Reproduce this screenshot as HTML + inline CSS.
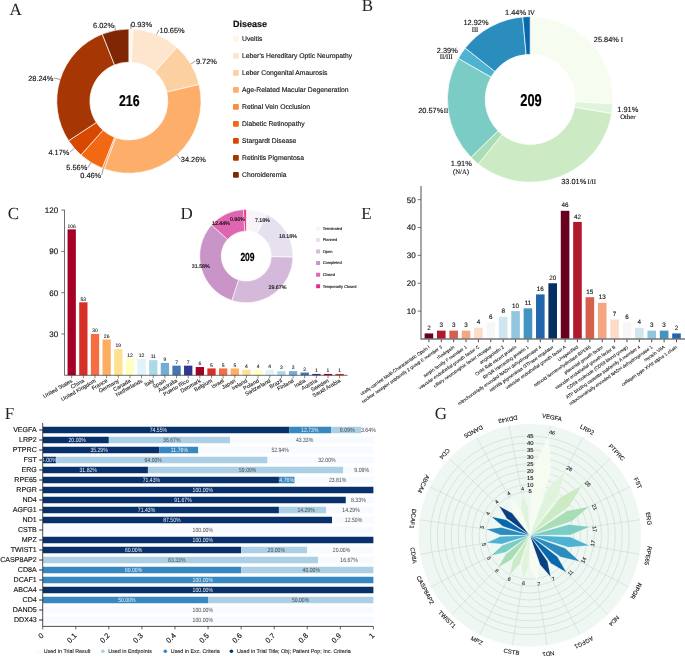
<!DOCTYPE html>
<html lang="en"><head><meta charset="utf-8"><title>Figure</title>
<style>html,body{margin:0;padding:0;background:#fff}body{width:685px;height:656px;overflow:hidden}svg{display:block}text{white-space:pre;text-rendering:geometricPrecision}</style>
</head><body>
<svg width="685" height="656" viewBox="0 0 685 656">
<rect width="685" height="656" fill="#fff"/>
<text x="9.5" y="15" font-size="17" text-anchor="start" font-family='"Liberation Serif", "Times New Roman", serif' fill="#222" stroke="none">A</text>
<text x="361.7" y="11.3" font-size="17" text-anchor="start" font-family='"Liberation Serif", "Times New Roman", serif' fill="#222" stroke="none">B</text>
<text x="7.8" y="218.7" font-size="17" text-anchor="start" font-family='"Liberation Serif", "Times New Roman", serif' fill="#222" stroke="none">C</text>
<text x="180.4" y="218.9" font-size="17" text-anchor="start" font-family='"Liberation Serif", "Times New Roman", serif' fill="#222" stroke="none">D</text>
<text x="361.2" y="219" font-size="17" text-anchor="start" font-family='"Liberation Serif", "Times New Roman", serif' fill="#222" stroke="none">E</text>
<text x="4.8" y="419.1" font-size="17" text-anchor="start" font-family='"Liberation Serif", "Times New Roman", serif' fill="#222" stroke="none">F</text>
<text x="434.8" y="419.1" font-size="17" text-anchor="start" font-family='"Liberation Serif", "Times New Roman", serif' fill="#222" stroke="none">G</text>
<path d="M128.9 28.95A72.15 72.15 0 0 1 133.11 29.07L131.17 62.22A38.95 38.95 0 0 0 128.9 62.15Z" fill="#fff5eb" stroke="#fff" stroke-width="0.7" stroke-linejoin="round"/>
<path d="M133.11 29.07A72.15 72.15 0 0 1 176.88 47.22L154.8 72.01A38.95 38.95 0 0 0 131.17 62.22Z" fill="#fee6ce" stroke="#fff" stroke-width="0.7" stroke-linejoin="round"/>
<path d="M176.88 47.22A72.15 72.15 0 0 1 199.11 84.47L166.8 92.12A38.95 38.95 0 0 0 154.8 72.01Z" fill="#fdd0a2" stroke="#fff" stroke-width="0.7" stroke-linejoin="round"/>
<path d="M199.11 84.47A72.15 72.15 0 0 1 104.23 168.9L115.58 137.7A38.95 38.95 0 0 0 166.8 92.12Z" fill="#fdae6b" stroke="#fff" stroke-width="0.7" stroke-linejoin="round"/>
<path d="M104.23 168.9A72.15 72.15 0 0 1 102.28 168.16L114.53 137.3A38.95 38.95 0 0 0 115.58 137.7Z" fill="#fd8d3c" stroke="#fff" stroke-width="0.7" stroke-linejoin="round"/>
<path d="M102.28 168.16A72.15 72.15 0 0 1 80.94 155L103.01 130.2A38.95 38.95 0 0 0 114.53 137.3Z" fill="#f16913" stroke="#fff" stroke-width="0.7" stroke-linejoin="round"/>
<path d="M80.94 155A72.15 72.15 0 0 1 68.61 140.74L96.35 122.5A38.95 38.95 0 0 0 103.01 130.2Z" fill="#d94801" stroke="#fff" stroke-width="0.7" stroke-linejoin="round"/>
<path d="M68.61 140.74A72.15 72.15 0 0 1 102.26 34.05L114.52 64.9A38.95 38.95 0 0 0 96.35 122.5Z" fill="#a63603" stroke="#fff" stroke-width="0.7" stroke-linejoin="round"/>
<path d="M102.26 34.05A72.15 72.15 0 0 1 128.9 28.95L128.9 62.15A38.95 38.95 0 0 0 114.52 64.9Z" fill="#7f2704" stroke="#fff" stroke-width="0.7" stroke-linejoin="round"/>
<text x="129.3" y="106.1" font-size="15.6" text-anchor="middle" font-family='"Liberation Sans", Arial, Helvetica, sans-serif' font-weight="bold" fill="#000" stroke="#000" stroke-width="0.22" textLength="20.6" lengthAdjust="spacingAndGlyphs">216</text>
<text x="131" y="26.7" font-size="7.4" text-anchor="start" font-family='"Liberation Sans", Arial, Helvetica, sans-serif' fill="#111" stroke="#111" stroke-width="0.14">0.93%</text>
<line x1="131.01" y1="28.98" x2="130.5" y2="24.1" stroke="#333" stroke-width="0.5"/>
<text x="159.6" y="32.5" font-size="7.4" text-anchor="start" font-family='"Liberation Sans", Arial, Helvetica, sans-serif' fill="#111" stroke="#111" stroke-width="0.14">10.65%</text>
<line x1="156.53" y1="34.45" x2="159.1" y2="29.9" stroke="#333" stroke-width="0.5"/>
<text x="195.9" y="63.6" font-size="7.4" text-anchor="start" font-family='"Liberation Sans", Arial, Helvetica, sans-serif' fill="#111" stroke="#111" stroke-width="0.14">9.72%</text>
<line x1="190.86" y1="64.13" x2="195.4" y2="61" stroke="#333" stroke-width="0.5"/>
<text x="180.8" y="162.2" font-size="7.4" text-anchor="start" font-family='"Liberation Sans", Arial, Helvetica, sans-serif' fill="#111" stroke="#111" stroke-width="0.14">34.26%</text>
<line x1="176.86" y1="155" x2="180.3" y2="159.6" stroke="#333" stroke-width="0.5"/>
<text x="101.2" y="177.6" font-size="7.4" text-anchor="end" font-family='"Liberation Sans", Arial, Helvetica, sans-serif' fill="#111" stroke="#111" stroke-width="0.14">0.46%</text>
<line x1="103.25" y1="168.54" x2="101.7" y2="175" stroke="#333" stroke-width="0.5"/>
<text x="87.3" y="170.2" font-size="7.4" text-anchor="end" font-family='"Liberation Sans", Arial, Helvetica, sans-serif' fill="#111" stroke="#111" stroke-width="0.14">5.56%</text>
<line x1="91.03" y1="162.51" x2="87.8" y2="167.6" stroke="#333" stroke-width="0.5"/>
<text x="69.4" y="154.8" font-size="7.4" text-anchor="end" font-family='"Liberation Sans", Arial, Helvetica, sans-serif' fill="#111" stroke="#111" stroke-width="0.14">4.17%</text>
<line x1="74.31" y1="148.27" x2="69.9" y2="152.2" stroke="#333" stroke-width="0.5"/>
<text x="53.3" y="80.6" font-size="7.4" text-anchor="end" font-family='"Liberation Sans", Arial, Helvetica, sans-serif' fill="#111" stroke="#111" stroke-width="0.14">28.24%</text>
<line x1="60.09" y1="79.4" x2="53.8" y2="78" stroke="#333" stroke-width="0.5"/>
<text x="114" y="27.6" font-size="7.4" text-anchor="end" font-family='"Liberation Sans", Arial, Helvetica, sans-serif' fill="#111" stroke="#111" stroke-width="0.14">6.02%</text>
<line x1="115.34" y1="30.24" x2="114.5" y2="25" stroke="#333" stroke-width="0.5"/>
<text x="232.9" y="26.5" font-size="9" text-anchor="start" font-family='"Liberation Sans", Arial, Helvetica, sans-serif' font-weight="bold" fill="#111" stroke="#111" stroke-width="0.19">Disease</text>
<rect x="233" y="35.9" width="5.8" height="5.8" rx="1" fill="#fff5eb"/>
<text x="242" y="41.2" font-size="6.8" text-anchor="start" font-family='"Liberation Sans", Arial, Helvetica, sans-serif' fill="#111" stroke="#111" stroke-width="0.12">Uveitis</text>
<rect x="233" y="52.9" width="5.8" height="5.8" rx="1" fill="#fee6ce"/>
<text x="242" y="58.2" font-size="6.8" text-anchor="start" font-family='"Liberation Sans", Arial, Helvetica, sans-serif' fill="#111" stroke="#111" stroke-width="0.12">Leber's Hereditary Optic Neuropathy</text>
<rect x="233" y="69.9" width="5.8" height="5.8" rx="1" fill="#fdd0a2"/>
<text x="242" y="75.2" font-size="6.8" text-anchor="start" font-family='"Liberation Sans", Arial, Helvetica, sans-serif' fill="#111" stroke="#111" stroke-width="0.12">Leber Congenital Amaurosis</text>
<rect x="233" y="86.9" width="5.8" height="5.8" rx="1" fill="#fdae6b"/>
<text x="242" y="92.2" font-size="6.8" text-anchor="start" font-family='"Liberation Sans", Arial, Helvetica, sans-serif' fill="#111" stroke="#111" stroke-width="0.12">Age-Related Macular Degeneration</text>
<rect x="233" y="103.9" width="5.8" height="5.8" rx="1" fill="#fd8d3c"/>
<text x="242" y="109.2" font-size="6.8" text-anchor="start" font-family='"Liberation Sans", Arial, Helvetica, sans-serif' fill="#111" stroke="#111" stroke-width="0.12">Retinal Vein Occlusion</text>
<rect x="233" y="120.9" width="5.8" height="5.8" rx="1" fill="#f16913"/>
<text x="242" y="126.2" font-size="6.8" text-anchor="start" font-family='"Liberation Sans", Arial, Helvetica, sans-serif' fill="#111" stroke="#111" stroke-width="0.12">Diabetic Retinopathy</text>
<rect x="233" y="137.9" width="5.8" height="5.8" rx="1" fill="#d94801"/>
<text x="242" y="143.2" font-size="6.8" text-anchor="start" font-family='"Liberation Sans", Arial, Helvetica, sans-serif' fill="#111" stroke="#111" stroke-width="0.12">Stargardt Disease</text>
<rect x="233" y="154.9" width="5.8" height="5.8" rx="1" fill="#a63603"/>
<text x="242" y="160.2" font-size="6.8" text-anchor="start" font-family='"Liberation Sans", Arial, Helvetica, sans-serif' fill="#111" stroke="#111" stroke-width="0.12">Retinitis Pigmentosa</text>
<rect x="233" y="171.9" width="5.8" height="5.8" rx="1" fill="#7f2704"/>
<text x="242" y="177.2" font-size="6.8" text-anchor="start" font-family='"Liberation Sans", Arial, Helvetica, sans-serif' fill="#111" stroke="#111" stroke-width="0.12">Choroideremia</text>
<path d="M530.2 16.6A82.8 82.8 0 0 1 612.88 103.78L575.14 101.78A45 45 0 0 0 530.2 54.4Z" fill="#f7fcf0" stroke="#fff" stroke-width="0.7" stroke-linejoin="round"/>
<path d="M612.88 103.78A82.8 82.8 0 0 1 611.76 113.65L574.53 107.14A45 45 0 0 0 575.14 101.78Z" fill="#e0f3db" stroke="#fff" stroke-width="0.7" stroke-linejoin="round"/>
<path d="M611.76 113.65A82.8 82.8 0 0 1 478.36 163.97L502.03 134.49A45 45 0 0 0 574.53 107.14Z" fill="#ccebc5" stroke="#fff" stroke-width="0.7" stroke-linejoin="round"/>
<path d="M478.36 163.97A82.8 82.8 0 0 1 471.01 157.3L498.03 130.87A45 45 0 0 0 502.03 134.49Z" fill="#a8ddb5" stroke="#fff" stroke-width="0.7" stroke-linejoin="round"/>
<path d="M471.01 157.3A82.8 82.8 0 0 1 458.27 58.38L491.11 77.11A45 45 0 0 0 498.03 130.87Z" fill="#7bccc4" stroke="#fff" stroke-width="0.7" stroke-linejoin="round"/>
<path d="M458.27 58.38A82.8 82.8 0 0 1 465.22 48.08L494.88 71.51A45 45 0 0 0 491.11 77.11Z" fill="#4eb3d3" stroke="#fff" stroke-width="0.7" stroke-linejoin="round"/>
<path d="M465.22 48.08A82.8 82.8 0 0 1 522.72 16.94L526.13 54.58A45 45 0 0 0 494.88 71.51Z" fill="#2b8cbe" stroke="#fff" stroke-width="0.7" stroke-linejoin="round"/>
<path d="M522.72 16.94A82.8 82.8 0 0 1 530.2 16.6L530.2 54.4A45 45 0 0 0 526.13 54.58Z" fill="#0868ac" stroke="#fff" stroke-width="0.7" stroke-linejoin="round"/>
<text x="531" y="105.6" font-size="17.1" text-anchor="middle" font-family='"Liberation Sans", Arial, Helvetica, sans-serif' font-weight="bold" fill="#000" stroke="#000" stroke-width="0.22" textLength="21.4" lengthAdjust="spacingAndGlyphs">209</text>
<text x="505.1" y="14.9" font-size="7.4" text-anchor="start" font-family='"Liberation Sans", Arial, Helvetica, sans-serif' fill="#111" stroke="#111" stroke-width="0.14">1.44%</text>
<text x="527.9" y="14.5" font-size="6.7" text-anchor="start" font-family='"Liberation Serif", "Times New Roman", serif' fill="#111" stroke="#111" stroke-width="0.12">IV</text>
<text x="476" y="25.4" font-size="7.4" text-anchor="middle" font-family='"Liberation Sans", Arial, Helvetica, sans-serif' fill="#111" stroke="#111" stroke-width="0.14">12.92%</text>
<text x="475" y="32" font-size="6.7" text-anchor="middle" font-family='"Liberation Serif", "Times New Roman", serif' fill="#111" stroke="#111" stroke-width="0.12">III</text>
<text x="447.3" y="53.4" font-size="7.4" text-anchor="middle" font-family='"Liberation Sans", Arial, Helvetica, sans-serif' fill="#111" stroke="#111" stroke-width="0.14">2.39%</text>
<text x="446.3" y="59.3" font-size="6.7" text-anchor="middle" font-family='"Liberation Serif", "Times New Roman", serif' fill="#111" stroke="#111" stroke-width="0.12">II/III</text>
<text x="418.2" y="113" font-size="7.4" text-anchor="start" font-family='"Liberation Sans", Arial, Helvetica, sans-serif' fill="#111" stroke="#111" stroke-width="0.14">20.57%</text>
<text x="443.7" y="112.8" font-size="6.7" text-anchor="start" font-family='"Liberation Serif", "Times New Roman", serif' fill="#111" stroke="#111" stroke-width="0.12">II</text>
<text x="461.3" y="166.2" font-size="7.4" text-anchor="middle" font-family='"Liberation Sans", Arial, Helvetica, sans-serif' fill="#111" stroke="#111" stroke-width="0.14">1.91%</text>
<text x="461" y="173.5" font-size="6.7" text-anchor="middle" font-family='"Liberation Serif", "Times New Roman", serif' fill="#111" stroke="#111" stroke-width="0.12">(N/A)</text>
<text x="561.2" y="183.7" font-size="7.4" text-anchor="start" font-family='"Liberation Sans", Arial, Helvetica, sans-serif' fill="#111" stroke="#111" stroke-width="0.14">33.01%</text>
<text x="587.5" y="183.5" font-size="6.7" text-anchor="start" font-family='"Liberation Serif", "Times New Roman", serif' fill="#111" stroke="#111" stroke-width="0.12">I/II</text>
<text x="627.8" y="111.9" font-size="7.4" text-anchor="middle" font-family='"Liberation Sans", Arial, Helvetica, sans-serif' fill="#111" stroke="#111" stroke-width="0.14">1.91%</text>
<text x="627.8" y="118.9" font-size="6.7" text-anchor="middle" font-family='"Liberation Serif", "Times New Roman", serif' fill="#111" stroke="#111" stroke-width="0.12">Other</text>
<text x="593.8" y="41.8" font-size="7.4" text-anchor="start" font-family='"Liberation Sans", Arial, Helvetica, sans-serif' fill="#111" stroke="#111" stroke-width="0.14">25.84%</text>
<text x="620.7" y="41.6" font-size="6.7" text-anchor="start" font-family='"Liberation Serif", "Times New Roman", serif' fill="#111" stroke="#111" stroke-width="0.12">I</text>
<rect x="67.55" y="229.34" width="8.3" height="145.96" fill="#a50026"/>
<text x="71.7" y="227.64" font-size="5" text-anchor="middle" font-family='"Liberation Sans", Arial, Helvetica, sans-serif' fill="#111" stroke="#111" stroke-width="0.07">106</text>
<line x1="71.7" y1="375.3" x2="71.7" y2="378.3" stroke="#333" stroke-width="0.6"/>
<text transform="translate(72.9 381.8) rotate(-30)" font-size="5.5" stroke="#111" stroke-width="0.08" text-anchor="end" font-family='"Liberation Sans", Arial, Helvetica, sans-serif' fill="#111">United States</text>
<rect x="79.2" y="302.32" width="8.3" height="72.98" fill="#d73027"/>
<text x="83.35" y="300.62" font-size="5" text-anchor="middle" font-family='"Liberation Sans", Arial, Helvetica, sans-serif' fill="#111" stroke="#111" stroke-width="0.07">53</text>
<line x1="83.35" y1="375.3" x2="83.35" y2="378.3" stroke="#333" stroke-width="0.6"/>
<text transform="translate(84.55 381.8) rotate(-30)" font-size="5.5" stroke="#111" stroke-width="0.08" text-anchor="end" font-family='"Liberation Sans", Arial, Helvetica, sans-serif' fill="#111">China</text>
<rect x="90.85" y="333.99" width="8.3" height="41.31" fill="#f46d43"/>
<text x="95" y="332.29" font-size="5" text-anchor="middle" font-family='"Liberation Sans", Arial, Helvetica, sans-serif' fill="#111" stroke="#111" stroke-width="0.07">30</text>
<line x1="95" y1="375.3" x2="95" y2="378.3" stroke="#333" stroke-width="0.6"/>
<text transform="translate(96.2 381.8) rotate(-30)" font-size="5.5" stroke="#111" stroke-width="0.08" text-anchor="end" font-family='"Liberation Sans", Arial, Helvetica, sans-serif' fill="#111">United Kingdom</text>
<rect x="102.5" y="339.5" width="8.3" height="35.8" fill="#fdae61"/>
<text x="106.65" y="337.8" font-size="5" text-anchor="middle" font-family='"Liberation Sans", Arial, Helvetica, sans-serif' fill="#111" stroke="#111" stroke-width="0.07">26</text>
<line x1="106.65" y1="375.3" x2="106.65" y2="378.3" stroke="#333" stroke-width="0.6"/>
<text transform="translate(107.85 381.8) rotate(-30)" font-size="5.5" stroke="#111" stroke-width="0.08" text-anchor="end" font-family='"Liberation Sans", Arial, Helvetica, sans-serif' fill="#111">France</text>
<rect x="114.15" y="349.14" width="8.3" height="26.16" fill="#fee090"/>
<text x="118.3" y="347.44" font-size="5" text-anchor="middle" font-family='"Liberation Sans", Arial, Helvetica, sans-serif' fill="#111" stroke="#111" stroke-width="0.07">19</text>
<line x1="118.3" y1="375.3" x2="118.3" y2="378.3" stroke="#333" stroke-width="0.6"/>
<text transform="translate(119.5 381.8) rotate(-30)" font-size="5.5" stroke="#111" stroke-width="0.08" text-anchor="end" font-family='"Liberation Sans", Arial, Helvetica, sans-serif' fill="#111">Germany</text>
<rect x="125.8" y="358.78" width="8.3" height="16.52" fill="#ffffbf"/>
<text x="129.95" y="357.08" font-size="5" text-anchor="middle" font-family='"Liberation Sans", Arial, Helvetica, sans-serif' fill="#111" stroke="#111" stroke-width="0.07">12</text>
<line x1="129.95" y1="375.3" x2="129.95" y2="378.3" stroke="#333" stroke-width="0.6"/>
<text transform="translate(131.15 381.8) rotate(-30)" font-size="5.5" stroke="#111" stroke-width="0.08" text-anchor="end" font-family='"Liberation Sans", Arial, Helvetica, sans-serif' fill="#111">Canada</text>
<rect x="137.45" y="358.78" width="8.3" height="16.52" fill="#e0f3f8"/>
<text x="141.6" y="357.08" font-size="5" text-anchor="middle" font-family='"Liberation Sans", Arial, Helvetica, sans-serif' fill="#111" stroke="#111" stroke-width="0.07">12</text>
<line x1="141.6" y1="375.3" x2="141.6" y2="378.3" stroke="#333" stroke-width="0.6"/>
<text transform="translate(142.8 381.8) rotate(-30)" font-size="5.5" stroke="#111" stroke-width="0.08" text-anchor="end" font-family='"Liberation Sans", Arial, Helvetica, sans-serif' fill="#111">Netherlands</text>
<rect x="149.1" y="360.15" width="8.3" height="15.15" fill="#abd9e9"/>
<text x="153.25" y="358.45" font-size="5" text-anchor="middle" font-family='"Liberation Sans", Arial, Helvetica, sans-serif' fill="#111" stroke="#111" stroke-width="0.07">11</text>
<line x1="153.25" y1="375.3" x2="153.25" y2="378.3" stroke="#333" stroke-width="0.6"/>
<text transform="translate(154.45 381.8) rotate(-30)" font-size="5.5" stroke="#111" stroke-width="0.08" text-anchor="end" font-family='"Liberation Sans", Arial, Helvetica, sans-serif' fill="#111">Italy</text>
<rect x="160.75" y="362.91" width="8.3" height="12.39" fill="#74add1"/>
<text x="164.9" y="361.21" font-size="5" text-anchor="middle" font-family='"Liberation Sans", Arial, Helvetica, sans-serif' fill="#111" stroke="#111" stroke-width="0.07">9</text>
<line x1="164.9" y1="375.3" x2="164.9" y2="378.3" stroke="#333" stroke-width="0.6"/>
<text transform="translate(166.1 381.8) rotate(-30)" font-size="5.5" stroke="#111" stroke-width="0.08" text-anchor="end" font-family='"Liberation Sans", Arial, Helvetica, sans-serif' fill="#111">Spain</text>
<rect x="172.4" y="365.66" width="8.3" height="9.64" fill="#4575b4"/>
<text x="176.55" y="363.96" font-size="5" text-anchor="middle" font-family='"Liberation Sans", Arial, Helvetica, sans-serif' fill="#111" stroke="#111" stroke-width="0.07">7</text>
<line x1="176.55" y1="375.3" x2="176.55" y2="378.3" stroke="#333" stroke-width="0.6"/>
<text transform="translate(177.75 381.8) rotate(-30)" font-size="5.5" stroke="#111" stroke-width="0.08" text-anchor="end" font-family='"Liberation Sans", Arial, Helvetica, sans-serif' fill="#111">Australia</text>
<rect x="184.05" y="365.66" width="8.3" height="9.64" fill="#313695"/>
<text x="188.2" y="363.96" font-size="5" text-anchor="middle" font-family='"Liberation Sans", Arial, Helvetica, sans-serif' fill="#111" stroke="#111" stroke-width="0.07">7</text>
<line x1="188.2" y1="375.3" x2="188.2" y2="378.3" stroke="#333" stroke-width="0.6"/>
<text transform="translate(189.4 381.8) rotate(-30)" font-size="5.5" stroke="#111" stroke-width="0.08" text-anchor="end" font-family='"Liberation Sans", Arial, Helvetica, sans-serif' fill="#111">Puerto Rico</text>
<rect x="195.7" y="367.04" width="8.3" height="8.26" fill="#a50026"/>
<text x="199.85" y="365.34" font-size="5" text-anchor="middle" font-family='"Liberation Sans", Arial, Helvetica, sans-serif' fill="#111" stroke="#111" stroke-width="0.07">6</text>
<line x1="199.85" y1="375.3" x2="199.85" y2="378.3" stroke="#333" stroke-width="0.6"/>
<text transform="translate(201.05 381.8) rotate(-30)" font-size="5.5" stroke="#111" stroke-width="0.08" text-anchor="end" font-family='"Liberation Sans", Arial, Helvetica, sans-serif' fill="#111">Denmark</text>
<rect x="207.35" y="368.42" width="8.3" height="6.88" fill="#d73027"/>
<text x="211.5" y="366.72" font-size="5" text-anchor="middle" font-family='"Liberation Sans", Arial, Helvetica, sans-serif' fill="#111" stroke="#111" stroke-width="0.07">5</text>
<line x1="211.5" y1="375.3" x2="211.5" y2="378.3" stroke="#333" stroke-width="0.6"/>
<text transform="translate(212.7 381.8) rotate(-30)" font-size="5.5" stroke="#111" stroke-width="0.08" text-anchor="end" font-family='"Liberation Sans", Arial, Helvetica, sans-serif' fill="#111">Belgium</text>
<rect x="219" y="368.42" width="8.3" height="6.88" fill="#f46d43"/>
<text x="223.15" y="366.72" font-size="5" text-anchor="middle" font-family='"Liberation Sans", Arial, Helvetica, sans-serif' fill="#111" stroke="#111" stroke-width="0.07">5</text>
<line x1="223.15" y1="375.3" x2="223.15" y2="378.3" stroke="#333" stroke-width="0.6"/>
<text transform="translate(224.35 381.8) rotate(-30)" font-size="5.5" stroke="#111" stroke-width="0.08" text-anchor="end" font-family='"Liberation Sans", Arial, Helvetica, sans-serif' fill="#111">Israel</text>
<rect x="230.65" y="368.42" width="8.3" height="6.88" fill="#fdae61"/>
<text x="234.8" y="366.72" font-size="5" text-anchor="middle" font-family='"Liberation Sans", Arial, Helvetica, sans-serif' fill="#111" stroke="#111" stroke-width="0.07">5</text>
<line x1="234.8" y1="375.3" x2="234.8" y2="378.3" stroke="#333" stroke-width="0.6"/>
<text transform="translate(236 381.8) rotate(-30)" font-size="5.5" stroke="#111" stroke-width="0.08" text-anchor="end" font-family='"Liberation Sans", Arial, Helvetica, sans-serif' fill="#111">Japan</text>
<rect x="242.3" y="369.79" width="8.3" height="5.51" fill="#fee090"/>
<text x="246.45" y="368.09" font-size="5" text-anchor="middle" font-family='"Liberation Sans", Arial, Helvetica, sans-serif' fill="#111" stroke="#111" stroke-width="0.07">4</text>
<line x1="246.45" y1="375.3" x2="246.45" y2="378.3" stroke="#333" stroke-width="0.6"/>
<text transform="translate(247.65 381.8) rotate(-30)" font-size="5.5" stroke="#111" stroke-width="0.08" text-anchor="end" font-family='"Liberation Sans", Arial, Helvetica, sans-serif' fill="#111">Ireland</text>
<rect x="253.95" y="369.79" width="8.3" height="5.51" fill="#ffffbf"/>
<text x="258.1" y="368.09" font-size="5" text-anchor="middle" font-family='"Liberation Sans", Arial, Helvetica, sans-serif' fill="#111" stroke="#111" stroke-width="0.07">4</text>
<line x1="258.1" y1="375.3" x2="258.1" y2="378.3" stroke="#333" stroke-width="0.6"/>
<text transform="translate(259.3 381.8) rotate(-30)" font-size="5.5" stroke="#111" stroke-width="0.08" text-anchor="end" font-family='"Liberation Sans", Arial, Helvetica, sans-serif' fill="#111">Poland</text>
<rect x="265.6" y="369.79" width="8.3" height="5.51" fill="#e0f3f8"/>
<text x="269.75" y="368.09" font-size="5" text-anchor="middle" font-family='"Liberation Sans", Arial, Helvetica, sans-serif' fill="#111" stroke="#111" stroke-width="0.07">4</text>
<line x1="269.75" y1="375.3" x2="269.75" y2="378.3" stroke="#333" stroke-width="0.6"/>
<text transform="translate(270.95 381.8) rotate(-30)" font-size="5.5" stroke="#111" stroke-width="0.08" text-anchor="end" font-family='"Liberation Sans", Arial, Helvetica, sans-serif' fill="#111">Switzerland</text>
<rect x="277.25" y="371.17" width="8.3" height="4.13" fill="#abd9e9"/>
<text x="281.4" y="369.47" font-size="5" text-anchor="middle" font-family='"Liberation Sans", Arial, Helvetica, sans-serif' fill="#111" stroke="#111" stroke-width="0.07">3</text>
<line x1="281.4" y1="375.3" x2="281.4" y2="378.3" stroke="#333" stroke-width="0.6"/>
<text transform="translate(282.6 381.8) rotate(-30)" font-size="5.5" stroke="#111" stroke-width="0.08" text-anchor="end" font-family='"Liberation Sans", Arial, Helvetica, sans-serif' fill="#111">Brazil</text>
<rect x="288.9" y="371.17" width="8.3" height="4.13" fill="#74add1"/>
<text x="293.05" y="369.47" font-size="5" text-anchor="middle" font-family='"Liberation Sans", Arial, Helvetica, sans-serif' fill="#111" stroke="#111" stroke-width="0.07">3</text>
<line x1="293.05" y1="375.3" x2="293.05" y2="378.3" stroke="#333" stroke-width="0.6"/>
<text transform="translate(294.25 381.8) rotate(-30)" font-size="5.5" stroke="#111" stroke-width="0.08" text-anchor="end" font-family='"Liberation Sans", Arial, Helvetica, sans-serif' fill="#111">Finland</text>
<rect x="300.55" y="372.55" width="8.3" height="2.75" fill="#4575b4"/>
<text x="304.7" y="370.85" font-size="5" text-anchor="middle" font-family='"Liberation Sans", Arial, Helvetica, sans-serif' fill="#111" stroke="#111" stroke-width="0.07">2</text>
<line x1="304.7" y1="375.3" x2="304.7" y2="378.3" stroke="#333" stroke-width="0.6"/>
<text transform="translate(305.9 381.8) rotate(-30)" font-size="5.5" stroke="#111" stroke-width="0.08" text-anchor="end" font-family='"Liberation Sans", Arial, Helvetica, sans-serif' fill="#111">India</text>
<rect x="312.2" y="373.92" width="8.3" height="1.38" fill="#313695"/>
<text x="316.35" y="372.22" font-size="5" text-anchor="middle" font-family='"Liberation Sans", Arial, Helvetica, sans-serif' fill="#111" stroke="#111" stroke-width="0.07">1</text>
<line x1="316.35" y1="375.3" x2="316.35" y2="378.3" stroke="#333" stroke-width="0.6"/>
<text transform="translate(317.55 381.8) rotate(-30)" font-size="5.5" stroke="#111" stroke-width="0.08" text-anchor="end" font-family='"Liberation Sans", Arial, Helvetica, sans-serif' fill="#111">Austria</text>
<rect x="323.85" y="373.92" width="8.3" height="1.38" fill="#a50026"/>
<text x="328" y="372.22" font-size="5" text-anchor="middle" font-family='"Liberation Sans", Arial, Helvetica, sans-serif' fill="#111" stroke="#111" stroke-width="0.07">1</text>
<line x1="328" y1="375.3" x2="328" y2="378.3" stroke="#333" stroke-width="0.6"/>
<text transform="translate(329.2 381.8) rotate(-30)" font-size="5.5" stroke="#111" stroke-width="0.08" text-anchor="end" font-family='"Liberation Sans", Arial, Helvetica, sans-serif' fill="#111">Sweden</text>
<rect x="335.5" y="373.92" width="8.3" height="1.38" fill="#d73027"/>
<text x="339.65" y="372.22" font-size="5" text-anchor="middle" font-family='"Liberation Sans", Arial, Helvetica, sans-serif' fill="#111" stroke="#111" stroke-width="0.07">1</text>
<line x1="339.65" y1="375.3" x2="339.65" y2="378.3" stroke="#333" stroke-width="0.6"/>
<text transform="translate(340.85 381.8) rotate(-30)" font-size="5.5" stroke="#111" stroke-width="0.08" text-anchor="end" font-family='"Liberation Sans", Arial, Helvetica, sans-serif' fill="#111">Saudi Arabia</text>
<path d="M64.5 209.9V375.3H347.5" fill="none" stroke="#333" stroke-width="0.7"/>
<line x1="61.3" y1="333.99" x2="64.5" y2="333.99" stroke="#333" stroke-width="0.7"/>
<text x="58.2" y="336.89" font-size="8" text-anchor="end" font-family='"Liberation Sans", Arial, Helvetica, sans-serif' fill="#111" stroke="#111" stroke-width="0.16">30</text>
<line x1="61.3" y1="292.68" x2="64.5" y2="292.68" stroke="#333" stroke-width="0.7"/>
<text x="58.2" y="295.58" font-size="8" text-anchor="end" font-family='"Liberation Sans", Arial, Helvetica, sans-serif' fill="#111" stroke="#111" stroke-width="0.16">60</text>
<line x1="61.3" y1="251.37" x2="64.5" y2="251.37" stroke="#333" stroke-width="0.7"/>
<text x="58.2" y="254.27" font-size="8" text-anchor="end" font-family='"Liberation Sans", Arial, Helvetica, sans-serif' fill="#111" stroke="#111" stroke-width="0.16">90</text>
<line x1="61.3" y1="210.06" x2="64.5" y2="210.06" stroke="#333" stroke-width="0.7"/>
<text x="58.2" y="212.96" font-size="8" text-anchor="end" font-family='"Liberation Sans", Arial, Helvetica, sans-serif' fill="#111" stroke="#111" stroke-width="0.16">120</text>
<path d="M246.3 209.5A46.6 46.6 0 0 1 266.62 214.16L257.2 233.6A25 25 0 0 0 246.3 231.1Z" fill="#f7f4f9" stroke="#fff" stroke-width="0.6" stroke-linejoin="round"/>
<path d="M266.62 214.16A46.6 46.6 0 0 1 292.89 257.15L271.29 256.66A25 25 0 0 0 257.2 233.6Z" fill="#e7e1ef" stroke="#fff" stroke-width="0.6" stroke-linejoin="round"/>
<path d="M292.89 257.15A46.6 46.6 0 0 1 231.83 300.4L238.54 279.86A25 25 0 0 0 271.29 256.66Z" fill="#d4b9da" stroke="#fff" stroke-width="0.6" stroke-linejoin="round"/>
<path d="M231.83 300.4A46.6 46.6 0 0 1 211.54 225.06L227.65 239.45A25 25 0 0 0 238.54 279.86Z" fill="#c994c7" stroke="#fff" stroke-width="0.6" stroke-linejoin="round"/>
<path d="M211.54 225.06A46.6 46.6 0 0 1 243.49 209.58L244.79 231.15A25 25 0 0 0 227.65 239.45Z" fill="#df65b0" stroke="#fff" stroke-width="0.6" stroke-linejoin="round"/>
<path d="M243.49 209.58A46.6 46.6 0 0 1 246.3 209.5L246.3 231.1A25 25 0 0 0 244.79 231.15Z" fill="#e7298a" stroke="#fff" stroke-width="0.6" stroke-linejoin="round"/>
<text x="247.5" y="260.5" font-size="11.7" text-anchor="middle" font-family='"Liberation Sans", Arial, Helvetica, sans-serif' font-weight="bold" fill="#000" stroke="#000" stroke-width="0.22" textLength="14.2" lengthAdjust="spacingAndGlyphs">209</text>
<text x="254.9" y="221.9" font-size="5.3" text-anchor="start" font-family='"Liberation Sans", Arial, Helvetica, sans-serif' fill="#111" stroke="#111" stroke-width="0.15">7.18%</text>
<text x="279" y="238.4" font-size="5.3" text-anchor="start" font-family='"Liberation Sans", Arial, Helvetica, sans-serif' fill="#111" stroke="#111" stroke-width="0.15">18.18%</text>
<text x="268.5" y="288.9" font-size="5.3" text-anchor="start" font-family='"Liberation Sans", Arial, Helvetica, sans-serif' fill="#111" stroke="#111" stroke-width="0.15">29.67%</text>
<text x="191.8" y="267.8" font-size="5.3" text-anchor="start" font-family='"Liberation Sans", Arial, Helvetica, sans-serif' fill="#111" stroke="#111" stroke-width="0.15">31.58%</text>
<text x="212" y="224.5" font-size="5.3" text-anchor="start" font-family='"Liberation Sans", Arial, Helvetica, sans-serif' fill="#111" stroke="#111" stroke-width="0.15">12.44%</text>
<text x="229.9" y="220.5" font-size="5.3" text-anchor="start" font-family='"Liberation Sans", Arial, Helvetica, sans-serif' fill="#111" stroke="#111" stroke-width="0.15">0.96%</text>
<rect x="316.1" y="226.4" width="4" height="4" rx="0.6" fill="#f7f4f9"/>
<text x="322.7" y="229.8" font-size="3.95" text-anchor="start" font-family='"Liberation Sans", Arial, Helvetica, sans-serif' fill="#111" stroke="#111" stroke-width="0.12">Terminated</text>
<rect x="316.1" y="237.96" width="4" height="4" rx="0.6" fill="#e7e1ef"/>
<text x="322.7" y="241.36" font-size="3.95" text-anchor="start" font-family='"Liberation Sans", Arial, Helvetica, sans-serif' fill="#111" stroke="#111" stroke-width="0.12">Planned</text>
<rect x="316.1" y="249.52" width="4" height="4" rx="0.6" fill="#d4b9da"/>
<text x="322.7" y="252.92" font-size="3.95" text-anchor="start" font-family='"Liberation Sans", Arial, Helvetica, sans-serif' fill="#111" stroke="#111" stroke-width="0.12">Open</text>
<rect x="316.1" y="261.08" width="4" height="4" rx="0.6" fill="#c994c7"/>
<text x="322.7" y="264.48" font-size="3.95" text-anchor="start" font-family='"Liberation Sans", Arial, Helvetica, sans-serif' fill="#111" stroke="#111" stroke-width="0.12">Completed</text>
<rect x="316.1" y="272.64" width="4" height="4" rx="0.6" fill="#df65b0"/>
<text x="322.7" y="276.04" font-size="3.95" text-anchor="start" font-family='"Liberation Sans", Arial, Helvetica, sans-serif' fill="#111" stroke="#111" stroke-width="0.12">Closed</text>
<rect x="316.1" y="284.2" width="4" height="4" rx="0.6" fill="#e7298a"/>
<text x="322.7" y="287.6" font-size="3.95" text-anchor="start" font-family='"Liberation Sans", Arial, Helvetica, sans-serif' fill="#111" stroke="#111" stroke-width="0.12">Temporarily Closed</text>
<g>
<rect x="424.6" y="333.43" width="8.6" height="5.57" fill="#67001f"/>
<text x="428.9" y="330.03" font-size="6.3" text-anchor="middle" font-family='"Liberation Sans", Arial, Helvetica, sans-serif' fill="#111" stroke="#111" stroke-width="0.11">2</text>
<line x1="428.9" y1="339" x2="428.9" y2="342.2" stroke="#333" stroke-width="0.9"/>
<text transform="translate(430.1 347.8) rotate(-35)" font-size="4.6" stroke="#111" stroke-width="0.07" text-anchor="end" font-family='"Liberation Sans", Arial, Helvetica, sans-serif' fill="#111">virally-carried Multi-Characteristic Opsin I</text>
<rect x="436.98" y="330.64" width="8.6" height="8.36" fill="#b2182b"/>
<text x="441.28" y="327.24" font-size="6.3" text-anchor="middle" font-family='"Liberation Sans", Arial, Helvetica, sans-serif' fill="#111" stroke="#111" stroke-width="0.11">3</text>
<line x1="441.28" y1="339" x2="441.28" y2="342.2" stroke="#333" stroke-width="0.9"/>
<text transform="translate(442.48 347.8) rotate(-35)" font-size="4.6" stroke="#111" stroke-width="0.07" text-anchor="end" font-family='"Liberation Sans", Arial, Helvetica, sans-serif' fill="#111">nuclear receptor subfamily 2 group E member 3</text>
<rect x="449.36" y="330.64" width="8.6" height="8.36" fill="#d6604d"/>
<text x="453.66" y="327.24" font-size="6.3" text-anchor="middle" font-family='"Liberation Sans", Arial, Helvetica, sans-serif' fill="#111" stroke="#111" stroke-width="0.11">3</text>
<line x1="453.66" y1="339" x2="453.66" y2="342.2" stroke="#333" stroke-width="0.9"/>
<text transform="translate(454.86 347.8) rotate(-35)" font-size="4.6" stroke="#111" stroke-width="0.07" text-anchor="end" font-family='"Liberation Sans", Arial, Helvetica, sans-serif' fill="#111">rhodopsin</text>
<rect x="461.74" y="330.64" width="8.6" height="8.36" fill="#f4a582"/>
<text x="466.04" y="327.24" font-size="6.3" text-anchor="middle" font-family='"Liberation Sans", Arial, Helvetica, sans-serif' fill="#111" stroke="#111" stroke-width="0.11">3</text>
<line x1="466.04" y1="339" x2="466.04" y2="342.2" stroke="#333" stroke-width="0.9"/>
<text transform="translate(467.24 347.8) rotate(-35)" font-size="4.6" stroke="#111" stroke-width="0.07" text-anchor="end" font-family='"Liberation Sans", Arial, Helvetica, sans-serif' fill="#111">serpin family F member 1</text>
<rect x="474.12" y="327.85" width="8.6" height="11.15" fill="#fddbc7"/>
<text x="478.42" y="324.45" font-size="6.3" text-anchor="middle" font-family='"Liberation Sans", Arial, Helvetica, sans-serif' fill="#111" stroke="#111" stroke-width="0.11">4</text>
<line x1="478.42" y1="339" x2="478.42" y2="342.2" stroke="#333" stroke-width="0.9"/>
<text transform="translate(479.62 347.8) rotate(-35)" font-size="4.6" stroke="#111" stroke-width="0.07" text-anchor="end" font-family='"Liberation Sans", Arial, Helvetica, sans-serif' fill="#111">vascular endothelial growth factor C</text>
<rect x="486.5" y="322.28" width="8.6" height="16.72" fill="#f7f7f7"/>
<text x="490.8" y="318.88" font-size="6.3" text-anchor="middle" font-family='"Liberation Sans", Arial, Helvetica, sans-serif' fill="#111" stroke="#111" stroke-width="0.11">6</text>
<line x1="490.8" y1="339" x2="490.8" y2="342.2" stroke="#333" stroke-width="0.9"/>
<text transform="translate(492 347.8) rotate(-35)" font-size="4.6" stroke="#111" stroke-width="0.07" text-anchor="end" font-family='"Liberation Sans", Arial, Helvetica, sans-serif' fill="#111">ciliary neurotrophic factor receptor</text>
<rect x="498.88" y="316.7" width="8.6" height="22.3" fill="#d1e5f0"/>
<text x="503.18" y="313.3" font-size="6.3" text-anchor="middle" font-family='"Liberation Sans", Arial, Helvetica, sans-serif' fill="#111" stroke="#111" stroke-width="0.11">8</text>
<line x1="503.18" y1="339" x2="503.18" y2="342.2" stroke="#333" stroke-width="0.9"/>
<text transform="translate(504.38 347.8) rotate(-35)" font-size="4.6" stroke="#111" stroke-width="0.07" text-anchor="end" font-family='"Liberation Sans", Arial, Helvetica, sans-serif' fill="#111">angiopoietin 2</text>
<rect x="511.26" y="311.13" width="8.6" height="27.87" fill="#92c5de"/>
<text x="515.56" y="307.73" font-size="6.3" text-anchor="middle" font-family='"Liberation Sans", Arial, Helvetica, sans-serif' fill="#111" stroke="#111" stroke-width="0.11">10</text>
<line x1="515.56" y1="339" x2="515.56" y2="342.2" stroke="#333" stroke-width="0.9"/>
<text transform="translate(516.76 347.8) rotate(-35)" font-size="4.6" stroke="#111" stroke-width="0.07" text-anchor="end" font-family='"Liberation Sans", Arial, Helvetica, sans-serif' fill="#111">CHM Rab escort protein</text>
<rect x="523.64" y="308.34" width="8.6" height="30.66" fill="#4393c3"/>
<text x="527.94" y="304.94" font-size="6.3" text-anchor="middle" font-family='"Liberation Sans", Arial, Helvetica, sans-serif' fill="#111" stroke="#111" stroke-width="0.11">11</text>
<line x1="527.94" y1="339" x2="527.94" y2="342.2" stroke="#333" stroke-width="0.9"/>
<text transform="translate(529.14 347.8) rotate(-35)" font-size="4.6" stroke="#111" stroke-width="0.07" text-anchor="end" font-family='"Liberation Sans", Arial, Helvetica, sans-serif' fill="#111">RPGR interacting protein 1</text>
<rect x="536.02" y="294.41" width="8.6" height="44.59" fill="#2166ac"/>
<text x="540.32" y="291.01" font-size="6.3" text-anchor="middle" font-family='"Liberation Sans", Arial, Helvetica, sans-serif' fill="#111" stroke="#111" stroke-width="0.11">16</text>
<line x1="540.32" y1="339" x2="540.32" y2="342.2" stroke="#333" stroke-width="0.9"/>
<text transform="translate(541.52 347.8) rotate(-35)" font-size="4.6" stroke="#111" stroke-width="0.07" text-anchor="end" font-family='"Liberation Sans", Arial, Helvetica, sans-serif' fill="#111">mitochondrially encoded NADH dehydrogenase 4</text>
<rect x="548.4" y="283.26" width="8.6" height="55.74" fill="#053061"/>
<text x="552.7" y="279.86" font-size="6.3" text-anchor="middle" font-family='"Liberation Sans", Arial, Helvetica, sans-serif' fill="#111" stroke="#111" stroke-width="0.11">20</text>
<line x1="552.7" y1="339" x2="552.7" y2="342.2" stroke="#333" stroke-width="0.9"/>
<text transform="translate(553.9 347.8) rotate(-35)" font-size="4.6" stroke="#111" stroke-width="0.07" text-anchor="end" font-family='"Liberation Sans", Arial, Helvetica, sans-serif' fill="#111">retinitis pigmentosa GTPase regulator</text>
<rect x="560.78" y="210.8" width="8.6" height="128.2" fill="#67001f"/>
<text x="565.08" y="207.4" font-size="6.3" text-anchor="middle" font-family='"Liberation Sans", Arial, Helvetica, sans-serif' fill="#111" stroke="#111" stroke-width="0.11">46</text>
<line x1="565.08" y1="339" x2="565.08" y2="342.2" stroke="#333" stroke-width="0.9"/>
<text transform="translate(566.28 347.8) rotate(-35)" font-size="4.6" stroke="#111" stroke-width="0.07" text-anchor="end" font-family='"Liberation Sans", Arial, Helvetica, sans-serif' fill="#111">vascular endothelial growth factor A</text>
<rect x="573.16" y="221.95" width="8.6" height="117.05" fill="#b2182b"/>
<text x="577.46" y="218.55" font-size="6.3" text-anchor="middle" font-family='"Liberation Sans", Arial, Helvetica, sans-serif' fill="#111" stroke="#111" stroke-width="0.11">42</text>
<line x1="577.46" y1="339" x2="577.46" y2="342.2" stroke="#333" stroke-width="0.9"/>
<text transform="translate(578.66 347.8) rotate(-35)" font-size="4.6" stroke="#111" stroke-width="0.07" text-anchor="end" font-family='"Liberation Sans", Arial, Helvetica, sans-serif' fill="#111">Unspecified</text>
<rect x="585.54" y="297.19" width="8.6" height="41.8" fill="#d6604d"/>
<text x="589.84" y="293.8" font-size="6.3" text-anchor="middle" font-family='"Liberation Sans", Arial, Helvetica, sans-serif' fill="#111" stroke="#111" stroke-width="0.11">15</text>
<line x1="589.84" y1="339" x2="589.84" y2="342.2" stroke="#333" stroke-width="0.9"/>
<text transform="translate(591.04 347.8) rotate(-35)" font-size="4.6" stroke="#111" stroke-width="0.07" text-anchor="end" font-family='"Liberation Sans", Arial, Helvetica, sans-serif' fill="#111">retinoid isomerohydrolase RPE65</text>
<rect x="597.92" y="302.77" width="8.6" height="36.23" fill="#f4a582"/>
<text x="602.22" y="299.37" font-size="6.3" text-anchor="middle" font-family='"Liberation Sans", Arial, Helvetica, sans-serif' fill="#111" stroke="#111" stroke-width="0.11">13</text>
<line x1="602.22" y1="339" x2="602.22" y2="342.2" stroke="#333" stroke-width="0.9"/>
<text transform="translate(603.42 347.8) rotate(-35)" font-size="4.6" stroke="#111" stroke-width="0.07" text-anchor="end" font-family='"Liberation Sans", Arial, Helvetica, sans-serif' fill="#111">placental growth factor</text>
<rect x="610.3" y="319.49" width="8.6" height="19.51" fill="#fddbc7"/>
<text x="614.6" y="316.09" font-size="6.3" text-anchor="middle" font-family='"Liberation Sans", Arial, Helvetica, sans-serif' fill="#111" stroke="#111" stroke-width="0.11">7</text>
<line x1="614.6" y1="339" x2="614.6" y2="342.2" stroke="#333" stroke-width="0.9"/>
<text transform="translate(615.8 347.8) rotate(-35)" font-size="4.6" stroke="#111" stroke-width="0.07" text-anchor="end" font-family='"Liberation Sans", Arial, Helvetica, sans-serif' fill="#111">vascular endothelial growth factor B</text>
<rect x="622.68" y="322.28" width="8.6" height="16.72" fill="#f7f7f7"/>
<text x="626.98" y="318.88" font-size="6.3" text-anchor="middle" font-family='"Liberation Sans", Arial, Helvetica, sans-serif' fill="#111" stroke="#111" stroke-width="0.11">6</text>
<line x1="626.98" y1="339" x2="626.98" y2="342.2" stroke="#333" stroke-width="0.9"/>
<text transform="translate(628.18 347.8) rotate(-35)" font-size="4.6" stroke="#111" stroke-width="0.07" text-anchor="end" font-family='"Liberation Sans", Arial, Helvetica, sans-serif' fill="#111">CD59 molecule (CD59 blood group)</text>
<rect x="635.06" y="327.85" width="8.6" height="11.15" fill="#d1e5f0"/>
<text x="639.36" y="324.45" font-size="6.3" text-anchor="middle" font-family='"Liberation Sans", Arial, Helvetica, sans-serif' fill="#111" stroke="#111" stroke-width="0.11">4</text>
<line x1="639.36" y1="339" x2="639.36" y2="342.2" stroke="#333" stroke-width="0.9"/>
<text transform="translate(640.56 347.8) rotate(-35)" font-size="4.6" stroke="#111" stroke-width="0.07" text-anchor="end" font-family='"Liberation Sans", Arial, Helvetica, sans-serif' fill="#111">ATP binding cassette subfamily A member 4</text>
<rect x="647.44" y="330.64" width="8.6" height="8.36" fill="#92c5de"/>
<text x="651.74" y="327.24" font-size="6.3" text-anchor="middle" font-family='"Liberation Sans", Arial, Helvetica, sans-serif' fill="#111" stroke="#111" stroke-width="0.11">3</text>
<line x1="651.74" y1="339" x2="651.74" y2="342.2" stroke="#333" stroke-width="0.9"/>
<text transform="translate(652.94 347.8) rotate(-35)" font-size="4.6" stroke="#111" stroke-width="0.07" text-anchor="end" font-family='"Liberation Sans", Arial, Helvetica, sans-serif' fill="#111">mitochondrially encoded NADH dehydrogenase 1</text>
<rect x="659.82" y="330.64" width="8.6" height="8.36" fill="#4393c3"/>
<text x="664.12" y="327.24" font-size="6.3" text-anchor="middle" font-family='"Liberation Sans", Arial, Helvetica, sans-serif' fill="#111" stroke="#111" stroke-width="0.11">3</text>
<line x1="664.12" y1="339" x2="664.12" y2="342.2" stroke="#333" stroke-width="0.9"/>
<text transform="translate(665.32 347.8) rotate(-35)" font-size="4.6" stroke="#111" stroke-width="0.07" text-anchor="end" font-family='"Liberation Sans", Arial, Helvetica, sans-serif' fill="#111">myosin VIIA</text>
<rect x="672.2" y="333.43" width="8.6" height="5.57" fill="#2166ac"/>
<text x="676.5" y="330.03" font-size="6.3" text-anchor="middle" font-family='"Liberation Sans", Arial, Helvetica, sans-serif' fill="#111" stroke="#111" stroke-width="0.11">2</text>
<line x1="676.5" y1="339" x2="676.5" y2="342.2" stroke="#333" stroke-width="0.9"/>
<text transform="translate(677.7 347.8) rotate(-35)" font-size="4.6" stroke="#111" stroke-width="0.07" text-anchor="end" font-family='"Liberation Sans", Arial, Helvetica, sans-serif' fill="#111">collagen type XVIII alpha 1 chain</text>
</g>
<path d="M421 186V339.0H685" fill="none" stroke="#777" stroke-width="1.3"/>
<line x1="417.8" y1="311.13" x2="421" y2="311.13" stroke="#555" stroke-width="0.8"/>
<text x="415.6" y="314.03" font-size="8" text-anchor="end" font-family='"Liberation Sans", Arial, Helvetica, sans-serif' fill="#111" stroke="#111" stroke-width="0.16">10</text>
<line x1="417.8" y1="283.26" x2="421" y2="283.26" stroke="#555" stroke-width="0.8"/>
<text x="415.6" y="286.16" font-size="8" text-anchor="end" font-family='"Liberation Sans", Arial, Helvetica, sans-serif' fill="#111" stroke="#111" stroke-width="0.16">20</text>
<line x1="417.8" y1="255.39" x2="421" y2="255.39" stroke="#555" stroke-width="0.8"/>
<text x="415.6" y="258.29" font-size="8" text-anchor="end" font-family='"Liberation Sans", Arial, Helvetica, sans-serif' fill="#111" stroke="#111" stroke-width="0.16">30</text>
<line x1="417.8" y1="227.52" x2="421" y2="227.52" stroke="#555" stroke-width="0.8"/>
<text x="415.6" y="230.42" font-size="8" text-anchor="end" font-family='"Liberation Sans", Arial, Helvetica, sans-serif' fill="#111" stroke="#111" stroke-width="0.16">40</text>
<line x1="417.8" y1="199.65" x2="421" y2="199.65" stroke="#555" stroke-width="0.8"/>
<text x="415.6" y="202.55" font-size="8" text-anchor="end" font-family='"Liberation Sans", Arial, Helvetica, sans-serif' fill="#111" stroke="#111" stroke-width="0.16">50</text>
<clipPath id="cf"><rect x="42.7" y="420" width="340" height="210"/></clipPath>
<g clip-path="url(#cf)">
<rect x="42.7" y="426.75" width="246.54" height="6.5" fill="#08306b"/>
<rect x="289.24" y="426.75" width="42.1" height="6.5" fill="#3787c0"/>
<rect x="331.33" y="426.75" width="30.06" height="6.5" fill="#abd0e6"/>
<rect x="361.4" y="426.75" width="12.04" height="6.5" fill="#f7fbff"/>
<text x="158.4" y="432.2" font-size="6.2" text-anchor="middle" font-family='"Liberation Sans", Arial, Helvetica, sans-serif' fill="#e9eff6" stroke="none" textLength="17.4" lengthAdjust="spacingAndGlyphs">74.55%</text>
<text x="309.8" y="432.2" font-size="6.2" text-anchor="middle" font-family='"Liberation Sans", Arial, Helvetica, sans-serif' fill="#e9eff6" stroke="none" textLength="17.4" lengthAdjust="spacingAndGlyphs">12.73%</text>
<text x="347.3" y="432.2" font-size="6.2" text-anchor="middle" font-family='"Liberation Sans", Arial, Helvetica, sans-serif' fill="#4a4a4a" stroke="none" textLength="14.9" lengthAdjust="spacingAndGlyphs">9.09%</text>
<text x="368.4" y="432.2" font-size="6.2" text-anchor="middle" font-family='"Liberation Sans", Arial, Helvetica, sans-serif' fill="#4a4a4a" stroke="none" textLength="14.9" lengthAdjust="spacingAndGlyphs">3.64%</text>
<rect x="42.7" y="436.75" width="66.14" height="6.5" fill="#08306b"/>
<rect x="108.84" y="436.75" width="121.27" height="6.5" fill="#abd0e6"/>
<rect x="230.11" y="436.75" width="143.29" height="6.5" fill="#f7fbff"/>
<text x="77.2" y="442.2" font-size="6.2" text-anchor="middle" font-family='"Liberation Sans", Arial, Helvetica, sans-serif' fill="#e9eff6" stroke="none" textLength="17.4" lengthAdjust="spacingAndGlyphs">20.00%</text>
<text x="171.8" y="442.2" font-size="6.2" text-anchor="middle" font-family='"Liberation Sans", Arial, Helvetica, sans-serif' fill="#4a4a4a" stroke="none" textLength="17.4" lengthAdjust="spacingAndGlyphs">36.67%</text>
<text x="304.6" y="442.2" font-size="6.2" text-anchor="middle" font-family='"Liberation Sans", Arial, Helvetica, sans-serif' fill="#4a4a4a" stroke="none" textLength="17.4" lengthAdjust="spacingAndGlyphs">43.33%</text>
<rect x="42.7" y="446.75" width="116.7" height="6.5" fill="#08306b"/>
<rect x="159.4" y="446.75" width="38.89" height="6.5" fill="#3787c0"/>
<rect x="198.29" y="446.75" width="175.07" height="6.5" fill="#f7fbff"/>
<text x="99.1" y="452.2" font-size="6.2" text-anchor="middle" font-family='"Liberation Sans", Arial, Helvetica, sans-serif' fill="#e9eff6" stroke="none" textLength="17.4" lengthAdjust="spacingAndGlyphs">35.29%</text>
<text x="179.5" y="452.2" font-size="6.2" text-anchor="middle" font-family='"Liberation Sans", Arial, Helvetica, sans-serif' fill="#e9eff6" stroke="none" textLength="17.4" lengthAdjust="spacingAndGlyphs">11.76%</text>
<text x="280.1" y="452.2" font-size="6.2" text-anchor="middle" font-family='"Liberation Sans", Arial, Helvetica, sans-serif' fill="#4a4a4a" stroke="none" textLength="17.4" lengthAdjust="spacingAndGlyphs">52.94%</text>
<rect x="42.7" y="456.75" width="13.23" height="6.5" fill="#08306b"/>
<rect x="55.93" y="456.75" width="211.65" height="6.5" fill="#abd0e6"/>
<rect x="267.58" y="456.75" width="105.82" height="6.5" fill="#f7fbff"/>
<text x="49.2" y="462.2" font-size="6.2" text-anchor="middle" font-family='"Liberation Sans", Arial, Helvetica, sans-serif' fill="#e9eff6" stroke="none" textLength="14.9" lengthAdjust="spacingAndGlyphs">4.00%</text>
<text x="153.2" y="462.2" font-size="6.2" text-anchor="middle" font-family='"Liberation Sans", Arial, Helvetica, sans-serif' fill="#4a4a4a" stroke="none" textLength="17.4" lengthAdjust="spacingAndGlyphs">64.00%</text>
<text x="326.9" y="462.2" font-size="6.2" text-anchor="middle" font-family='"Liberation Sans", Arial, Helvetica, sans-serif' fill="#4a4a4a" stroke="none" textLength="17.4" lengthAdjust="spacingAndGlyphs">32.00%</text>
<rect x="42.7" y="466.75" width="105.23" height="6.5" fill="#08306b"/>
<rect x="147.93" y="466.75" width="195.41" height="6.5" fill="#abd0e6"/>
<rect x="343.34" y="466.75" width="30.06" height="6.5" fill="#f7fbff"/>
<text x="88.2" y="472.2" font-size="6.2" text-anchor="middle" font-family='"Liberation Sans", Arial, Helvetica, sans-serif' fill="#e9eff6" stroke="none" textLength="17.4" lengthAdjust="spacingAndGlyphs">31.82%</text>
<text x="247.7" y="472.2" font-size="6.2" text-anchor="middle" font-family='"Liberation Sans", Arial, Helvetica, sans-serif' fill="#4a4a4a" stroke="none" textLength="17.4" lengthAdjust="spacingAndGlyphs">59.09%</text>
<text x="361.7" y="472.2" font-size="6.2" text-anchor="middle" font-family='"Liberation Sans", Arial, Helvetica, sans-serif' fill="#4a4a4a" stroke="none" textLength="14.9" lengthAdjust="spacingAndGlyphs">9.09%</text>
<rect x="42.7" y="476.75" width="236.22" height="6.5" fill="#08306b"/>
<rect x="278.92" y="476.75" width="15.74" height="6.5" fill="#3787c0"/>
<rect x="294.66" y="476.75" width="78.74" height="6.5" fill="#f7fbff"/>
<text x="151.4" y="482.2" font-size="6.2" text-anchor="middle" font-family='"Liberation Sans", Arial, Helvetica, sans-serif' fill="#e9eff6" stroke="none" textLength="17.4" lengthAdjust="spacingAndGlyphs">71.43%</text>
<text x="286.7" y="482.2" font-size="6.2" text-anchor="middle" font-family='"Liberation Sans", Arial, Helvetica, sans-serif' fill="#e9eff6" stroke="none" textLength="14.9" lengthAdjust="spacingAndGlyphs">4.76%</text>
<text x="337.6" y="482.2" font-size="6.2" text-anchor="middle" font-family='"Liberation Sans", Arial, Helvetica, sans-serif' fill="#4a4a4a" stroke="none" textLength="17.4" lengthAdjust="spacingAndGlyphs">23.81%</text>
<rect x="42.7" y="486.75" width="330.7" height="6.5" fill="#08306b"/>
<text x="202.8" y="492.2" font-size="6.2" text-anchor="middle" font-family='"Liberation Sans", Arial, Helvetica, sans-serif' fill="#e9eff6" stroke="none" textLength="20.4" lengthAdjust="spacingAndGlyphs">100.00%</text>
<rect x="42.7" y="496.75" width="303.15" height="6.5" fill="#08306b"/>
<rect x="345.85" y="496.75" width="27.55" height="6.5" fill="#f7fbff"/>
<text x="183" y="502.2" font-size="6.2" text-anchor="middle" font-family='"Liberation Sans", Arial, Helvetica, sans-serif' fill="#e9eff6" stroke="none" textLength="17.4" lengthAdjust="spacingAndGlyphs">91.67%</text>
<text x="358.4" y="502.2" font-size="6.2" text-anchor="middle" font-family='"Liberation Sans", Arial, Helvetica, sans-serif' fill="#4a4a4a" stroke="none" textLength="14.9" lengthAdjust="spacingAndGlyphs">8.33%</text>
<rect x="42.7" y="506.75" width="236.22" height="6.5" fill="#08306b"/>
<rect x="278.92" y="506.75" width="47.26" height="6.5" fill="#abd0e6"/>
<rect x="326.18" y="506.75" width="47.26" height="6.5" fill="#f7fbff"/>
<text x="146.5" y="512.2" font-size="6.2" text-anchor="middle" font-family='"Liberation Sans", Arial, Helvetica, sans-serif' fill="#e9eff6" stroke="none" textLength="17.4" lengthAdjust="spacingAndGlyphs">71.43%</text>
<text x="306.1" y="512.2" font-size="6.2" text-anchor="middle" font-family='"Liberation Sans", Arial, Helvetica, sans-serif' fill="#4a4a4a" stroke="none" textLength="17.4" lengthAdjust="spacingAndGlyphs">14.29%</text>
<text x="351" y="512.2" font-size="6.2" text-anchor="middle" font-family='"Liberation Sans", Arial, Helvetica, sans-serif' fill="#4a4a4a" stroke="none" textLength="17.4" lengthAdjust="spacingAndGlyphs">14.29%</text>
<rect x="42.7" y="516.75" width="289.36" height="6.5" fill="#08306b"/>
<rect x="332.06" y="516.75" width="41.34" height="6.5" fill="#f7fbff"/>
<text x="171.9" y="522.2" font-size="6.2" text-anchor="middle" font-family='"Liberation Sans", Arial, Helvetica, sans-serif' fill="#e9eff6" stroke="none" textLength="17.4" lengthAdjust="spacingAndGlyphs">87.50%</text>
<text x="353.5" y="522.2" font-size="6.2" text-anchor="middle" font-family='"Liberation Sans", Arial, Helvetica, sans-serif' fill="#4a4a4a" stroke="none" textLength="17.4" lengthAdjust="spacingAndGlyphs">12.50%</text>
<rect x="42.7" y="526.75" width="330.7" height="6.5" fill="#f7fbff"/>
<text x="202.8" y="532.2" font-size="6.2" text-anchor="middle" font-family='"Liberation Sans", Arial, Helvetica, sans-serif' fill="#4a4a4a" stroke="none" textLength="20.4" lengthAdjust="spacingAndGlyphs">100.00%</text>
<rect x="42.7" y="536.75" width="330.7" height="6.5" fill="#08306b"/>
<text x="202.8" y="542.2" font-size="6.2" text-anchor="middle" font-family='"Liberation Sans", Arial, Helvetica, sans-serif' fill="#e9eff6" stroke="none" textLength="20.4" lengthAdjust="spacingAndGlyphs">100.00%</text>
<rect x="42.7" y="546.75" width="198.42" height="6.5" fill="#08306b"/>
<rect x="241.12" y="546.75" width="66.14" height="6.5" fill="#abd0e6"/>
<rect x="307.26" y="546.75" width="66.14" height="6.5" fill="#f7fbff"/>
<text x="133.6" y="552.2" font-size="6.2" text-anchor="middle" font-family='"Liberation Sans", Arial, Helvetica, sans-serif' fill="#e9eff6" stroke="none" textLength="17.4" lengthAdjust="spacingAndGlyphs">60.00%</text>
<text x="276.3" y="552.2" font-size="6.2" text-anchor="middle" font-family='"Liberation Sans", Arial, Helvetica, sans-serif' fill="#4a4a4a" stroke="none" textLength="17.4" lengthAdjust="spacingAndGlyphs">20.00%</text>
<text x="341.5" y="552.2" font-size="6.2" text-anchor="middle" font-family='"Liberation Sans", Arial, Helvetica, sans-serif' fill="#4a4a4a" stroke="none" textLength="17.4" lengthAdjust="spacingAndGlyphs">20.00%</text>
<rect x="42.7" y="556.75" width="275.57" height="6.5" fill="#abd0e6"/>
<rect x="318.27" y="556.75" width="55.13" height="6.5" fill="#f7fbff"/>
<text x="176.8" y="562.2" font-size="6.2" text-anchor="middle" font-family='"Liberation Sans", Arial, Helvetica, sans-serif' fill="#4a4a4a" stroke="none" textLength="17.4" lengthAdjust="spacingAndGlyphs">83.33%</text>
<text x="349" y="562.2" font-size="6.2" text-anchor="middle" font-family='"Liberation Sans", Arial, Helvetica, sans-serif' fill="#4a4a4a" stroke="none" textLength="17.4" lengthAdjust="spacingAndGlyphs">16.67%</text>
<rect x="42.7" y="566.75" width="198.42" height="6.5" fill="#3787c0"/>
<rect x="241.12" y="566.75" width="132.28" height="6.5" fill="#abd0e6"/>
<text x="133.6" y="572.2" font-size="6.2" text-anchor="middle" font-family='"Liberation Sans", Arial, Helvetica, sans-serif' fill="#e9eff6" stroke="none" textLength="17.4" lengthAdjust="spacingAndGlyphs">60.00%</text>
<text x="311.3" y="572.2" font-size="6.2" text-anchor="middle" font-family='"Liberation Sans", Arial, Helvetica, sans-serif' fill="#4a4a4a" stroke="none" textLength="17.4" lengthAdjust="spacingAndGlyphs">40.00%</text>
<rect x="42.7" y="576.75" width="330.7" height="6.5" fill="#3787c0"/>
<text x="202.8" y="582.2" font-size="6.2" text-anchor="middle" font-family='"Liberation Sans", Arial, Helvetica, sans-serif' fill="#e9eff6" stroke="none" textLength="20.4" lengthAdjust="spacingAndGlyphs">100.00%</text>
<rect x="42.7" y="586.75" width="330.7" height="6.5" fill="#08306b"/>
<text x="202.8" y="592.2" font-size="6.2" text-anchor="middle" font-family='"Liberation Sans", Arial, Helvetica, sans-serif' fill="#e9eff6" stroke="none" textLength="20.4" lengthAdjust="spacingAndGlyphs">100.00%</text>
<rect x="42.7" y="596.75" width="165.35" height="6.5" fill="#3787c0"/>
<rect x="208.05" y="596.75" width="165.35" height="6.5" fill="#abd0e6"/>
<text x="126.9" y="602.2" font-size="6.2" text-anchor="middle" font-family='"Liberation Sans", Arial, Helvetica, sans-serif' fill="#e9eff6" stroke="none" textLength="17.4" lengthAdjust="spacingAndGlyphs">50.00%</text>
<text x="300.6" y="602.2" font-size="6.2" text-anchor="middle" font-family='"Liberation Sans", Arial, Helvetica, sans-serif' fill="#4a4a4a" stroke="none" textLength="17.4" lengthAdjust="spacingAndGlyphs">50.00%</text>
<rect x="42.7" y="606.75" width="330.7" height="6.5" fill="#f7fbff"/>
<text x="202.8" y="612.2" font-size="6.2" text-anchor="middle" font-family='"Liberation Sans", Arial, Helvetica, sans-serif' fill="#4a4a4a" stroke="none" textLength="20.4" lengthAdjust="spacingAndGlyphs">100.00%</text>
<rect x="42.7" y="616.75" width="330.7" height="6.5" fill="#f7fbff"/>
<text x="202.8" y="622.2" font-size="6.2" text-anchor="middle" font-family='"Liberation Sans", Arial, Helvetica, sans-serif' fill="#4a4a4a" stroke="none" textLength="20.4" lengthAdjust="spacingAndGlyphs">100.00%</text>
</g>
<text x="36.8" y="431.9" font-size="7.1" text-anchor="end" font-family='"Liberation Sans", Arial, Helvetica, sans-serif' fill="#111" stroke="#111" stroke-width="0.13">VEGFA</text>
<line x1="39.2" y1="430" x2="42.7" y2="430" stroke="#111" stroke-width="0.9"/>
<text x="36.8" y="441.9" font-size="7.1" text-anchor="end" font-family='"Liberation Sans", Arial, Helvetica, sans-serif' fill="#111" stroke="#111" stroke-width="0.13">LRP2</text>
<line x1="39.2" y1="440" x2="42.7" y2="440" stroke="#111" stroke-width="0.9"/>
<text x="36.8" y="451.9" font-size="7.1" text-anchor="end" font-family='"Liberation Sans", Arial, Helvetica, sans-serif' fill="#111" stroke="#111" stroke-width="0.13">PTPRC</text>
<line x1="39.2" y1="450" x2="42.7" y2="450" stroke="#111" stroke-width="0.9"/>
<text x="36.8" y="461.9" font-size="7.1" text-anchor="end" font-family='"Liberation Sans", Arial, Helvetica, sans-serif' fill="#111" stroke="#111" stroke-width="0.13">FST</text>
<line x1="39.2" y1="460" x2="42.7" y2="460" stroke="#111" stroke-width="0.9"/>
<text x="36.8" y="471.9" font-size="7.1" text-anchor="end" font-family='"Liberation Sans", Arial, Helvetica, sans-serif' fill="#111" stroke="#111" stroke-width="0.13">ERG</text>
<line x1="39.2" y1="470" x2="42.7" y2="470" stroke="#111" stroke-width="0.9"/>
<text x="36.8" y="481.9" font-size="7.1" text-anchor="end" font-family='"Liberation Sans", Arial, Helvetica, sans-serif' fill="#111" stroke="#111" stroke-width="0.13">RPE65</text>
<line x1="39.2" y1="480" x2="42.7" y2="480" stroke="#111" stroke-width="0.9"/>
<text x="36.8" y="491.9" font-size="7.1" text-anchor="end" font-family='"Liberation Sans", Arial, Helvetica, sans-serif' fill="#111" stroke="#111" stroke-width="0.13">RPGR</text>
<line x1="39.2" y1="490" x2="42.7" y2="490" stroke="#111" stroke-width="0.9"/>
<text x="36.8" y="501.9" font-size="7.1" text-anchor="end" font-family='"Liberation Sans", Arial, Helvetica, sans-serif' fill="#111" stroke="#111" stroke-width="0.13">ND4</text>
<line x1="39.2" y1="500" x2="42.7" y2="500" stroke="#111" stroke-width="0.9"/>
<text x="36.8" y="511.9" font-size="7.1" text-anchor="end" font-family='"Liberation Sans", Arial, Helvetica, sans-serif' fill="#111" stroke="#111" stroke-width="0.13">AGFG1</text>
<line x1="39.2" y1="510" x2="42.7" y2="510" stroke="#111" stroke-width="0.9"/>
<text x="36.8" y="521.9" font-size="7.1" text-anchor="end" font-family='"Liberation Sans", Arial, Helvetica, sans-serif' fill="#111" stroke="#111" stroke-width="0.13">ND1</text>
<line x1="39.2" y1="520" x2="42.7" y2="520" stroke="#111" stroke-width="0.9"/>
<text x="36.8" y="531.9" font-size="7.1" text-anchor="end" font-family='"Liberation Sans", Arial, Helvetica, sans-serif' fill="#111" stroke="#111" stroke-width="0.13">CSTB</text>
<line x1="39.2" y1="530" x2="42.7" y2="530" stroke="#111" stroke-width="0.9"/>
<text x="36.8" y="541.9" font-size="7.1" text-anchor="end" font-family='"Liberation Sans", Arial, Helvetica, sans-serif' fill="#111" stroke="#111" stroke-width="0.13">MPZ</text>
<line x1="39.2" y1="540" x2="42.7" y2="540" stroke="#111" stroke-width="0.9"/>
<text x="36.8" y="551.9" font-size="7.1" text-anchor="end" font-family='"Liberation Sans", Arial, Helvetica, sans-serif' fill="#111" stroke="#111" stroke-width="0.13">TWIST1</text>
<line x1="39.2" y1="550" x2="42.7" y2="550" stroke="#111" stroke-width="0.9"/>
<text x="36.8" y="561.9" font-size="7.1" text-anchor="end" font-family='"Liberation Sans", Arial, Helvetica, sans-serif' fill="#111" stroke="#111" stroke-width="0.13">CASP8AP2</text>
<line x1="39.2" y1="560" x2="42.7" y2="560" stroke="#111" stroke-width="0.9"/>
<text x="36.8" y="571.9" font-size="7.1" text-anchor="end" font-family='"Liberation Sans", Arial, Helvetica, sans-serif' fill="#111" stroke="#111" stroke-width="0.13">CD8A</text>
<line x1="39.2" y1="570" x2="42.7" y2="570" stroke="#111" stroke-width="0.9"/>
<text x="36.8" y="581.9" font-size="7.1" text-anchor="end" font-family='"Liberation Sans", Arial, Helvetica, sans-serif' fill="#111" stroke="#111" stroke-width="0.13">DCAF1</text>
<line x1="39.2" y1="580" x2="42.7" y2="580" stroke="#111" stroke-width="0.9"/>
<text x="36.8" y="591.9" font-size="7.1" text-anchor="end" font-family='"Liberation Sans", Arial, Helvetica, sans-serif' fill="#111" stroke="#111" stroke-width="0.13">ABCA4</text>
<line x1="39.2" y1="590" x2="42.7" y2="590" stroke="#111" stroke-width="0.9"/>
<text x="36.8" y="601.9" font-size="7.1" text-anchor="end" font-family='"Liberation Sans", Arial, Helvetica, sans-serif' fill="#111" stroke="#111" stroke-width="0.13">CD4</text>
<line x1="39.2" y1="600" x2="42.7" y2="600" stroke="#111" stroke-width="0.9"/>
<text x="36.8" y="611.9" font-size="7.1" text-anchor="end" font-family='"Liberation Sans", Arial, Helvetica, sans-serif' fill="#111" stroke="#111" stroke-width="0.13">DAND5</text>
<line x1="39.2" y1="610" x2="42.7" y2="610" stroke="#111" stroke-width="0.9"/>
<text x="36.8" y="621.9" font-size="7.1" text-anchor="end" font-family='"Liberation Sans", Arial, Helvetica, sans-serif' fill="#111" stroke="#111" stroke-width="0.13">DDX43</text>
<line x1="39.2" y1="620" x2="42.7" y2="620" stroke="#111" stroke-width="0.9"/>
<path d="M42.7 423V626.4H373.4" fill="none" stroke="#222" stroke-width="0.8"/>
<line x1="42.7" y1="626.4" x2="42.7" y2="629.4" stroke="#222" stroke-width="0.7"/>
<text transform="translate(44.1 636.2) rotate(-45)" font-size="7.4" stroke="#111" stroke-width="0.15" text-anchor="end" font-family='"Liberation Sans", Arial, Helvetica, sans-serif' fill="#111">0</text>
<line x1="75.77" y1="626.4" x2="75.77" y2="629.4" stroke="#222" stroke-width="0.7"/>
<text transform="translate(77.17 636.2) rotate(-45)" font-size="7.4" stroke="#111" stroke-width="0.15" text-anchor="end" font-family='"Liberation Sans", Arial, Helvetica, sans-serif' fill="#111">0.1</text>
<line x1="108.84" y1="626.4" x2="108.84" y2="629.4" stroke="#222" stroke-width="0.7"/>
<text transform="translate(110.24 636.2) rotate(-45)" font-size="7.4" stroke="#111" stroke-width="0.15" text-anchor="end" font-family='"Liberation Sans", Arial, Helvetica, sans-serif' fill="#111">0.2</text>
<line x1="141.91" y1="626.4" x2="141.91" y2="629.4" stroke="#222" stroke-width="0.7"/>
<text transform="translate(143.31 636.2) rotate(-45)" font-size="7.4" stroke="#111" stroke-width="0.15" text-anchor="end" font-family='"Liberation Sans", Arial, Helvetica, sans-serif' fill="#111">0.3</text>
<line x1="174.98" y1="626.4" x2="174.98" y2="629.4" stroke="#222" stroke-width="0.7"/>
<text transform="translate(176.38 636.2) rotate(-45)" font-size="7.4" stroke="#111" stroke-width="0.15" text-anchor="end" font-family='"Liberation Sans", Arial, Helvetica, sans-serif' fill="#111">0.4</text>
<line x1="208.05" y1="626.4" x2="208.05" y2="629.4" stroke="#222" stroke-width="0.7"/>
<text transform="translate(209.45 636.2) rotate(-45)" font-size="7.4" stroke="#111" stroke-width="0.15" text-anchor="end" font-family='"Liberation Sans", Arial, Helvetica, sans-serif' fill="#111">0.5</text>
<line x1="241.12" y1="626.4" x2="241.12" y2="629.4" stroke="#222" stroke-width="0.7"/>
<text transform="translate(242.52 636.2) rotate(-45)" font-size="7.4" stroke="#111" stroke-width="0.15" text-anchor="end" font-family='"Liberation Sans", Arial, Helvetica, sans-serif' fill="#111">0.6</text>
<line x1="274.19" y1="626.4" x2="274.19" y2="629.4" stroke="#222" stroke-width="0.7"/>
<text transform="translate(275.59 636.2) rotate(-45)" font-size="7.4" stroke="#111" stroke-width="0.15" text-anchor="end" font-family='"Liberation Sans", Arial, Helvetica, sans-serif' fill="#111">0.7</text>
<line x1="307.26" y1="626.4" x2="307.26" y2="629.4" stroke="#222" stroke-width="0.7"/>
<text transform="translate(308.66 636.2) rotate(-45)" font-size="7.4" stroke="#111" stroke-width="0.15" text-anchor="end" font-family='"Liberation Sans", Arial, Helvetica, sans-serif' fill="#111">0.8</text>
<line x1="340.33" y1="626.4" x2="340.33" y2="629.4" stroke="#222" stroke-width="0.7"/>
<text transform="translate(341.73 636.2) rotate(-45)" font-size="7.4" stroke="#111" stroke-width="0.15" text-anchor="end" font-family='"Liberation Sans", Arial, Helvetica, sans-serif' fill="#111">0.9</text>
<line x1="373.4" y1="626.4" x2="373.4" y2="629.4" stroke="#222" stroke-width="0.7"/>
<text transform="translate(374.8 636.2) rotate(-45)" font-size="7.4" stroke="#111" stroke-width="0.15" text-anchor="end" font-family='"Liberation Sans", Arial, Helvetica, sans-serif' fill="#111">1</text>
<circle cx="38" cy="651.2" r="1.8" fill="#f7fbff"/>
<text x="43.8" y="653.1" font-size="5.38" text-anchor="start" font-family='"Liberation Sans", Arial, Helvetica, sans-serif' fill="#111" stroke="#111" stroke-width="0.08">Used in Trial Result</text>
<circle cx="102.8" cy="651.2" r="1.8" fill="#abd0e6"/>
<text x="108.3" y="653.1" font-size="5.38" text-anchor="start" font-family='"Liberation Sans", Arial, Helvetica, sans-serif' fill="#111" stroke="#111" stroke-width="0.08">Used in Endpoints</text>
<circle cx="165.3" cy="651.2" r="1.8" fill="#3787c0"/>
<text x="170.8" y="653.1" font-size="5.38" text-anchor="start" font-family='"Liberation Sans", Arial, Helvetica, sans-serif' fill="#111" stroke="#111" stroke-width="0.08">Used in Exc. Criteria</text>
<circle cx="231.4" cy="651.2" r="1.8" fill="#08306b"/>
<text x="236.9" y="653.1" font-size="5.38" text-anchor="start" font-family='"Liberation Sans", Arial, Helvetica, sans-serif' fill="#111" stroke="#111" stroke-width="0.08">Used in Trial Title; Obj; Patient Pop; Inc. Criteria</text>
<circle cx="529.8" cy="535.3" r="111.4" fill="#eff7f3"/>
<circle cx="529.8" cy="535.3" r="43.92" fill="none" stroke="#bcc5c0" stroke-width="0.4"/>
<circle cx="529.8" cy="535.3" r="50.85" fill="none" stroke="#bcc5c0" stroke-width="0.4"/>
<circle cx="529.8" cy="535.3" r="57.77" fill="none" stroke="#bcc5c0" stroke-width="0.4"/>
<circle cx="529.8" cy="535.3" r="64.7" fill="none" stroke="#bcc5c0" stroke-width="0.4"/>
<circle cx="529.8" cy="535.3" r="71.62" fill="none" stroke="#bcc5c0" stroke-width="0.4"/>
<circle cx="529.8" cy="535.3" r="78.55" fill="none" stroke="#bcc5c0" stroke-width="0.4"/>
<circle cx="529.8" cy="535.3" r="85.47" fill="none" stroke="#bcc5c0" stroke-width="0.4"/>
<circle cx="529.8" cy="535.3" r="92.4" fill="none" stroke="#bcc5c0" stroke-width="0.4"/>
<circle cx="529.8" cy="535.3" r="99.33" fill="none" stroke="#bcc5c0" stroke-width="0.4"/>
<line x1="535.18" y1="506.8" x2="550.47" y2="425.83" stroke="#c2cac5" stroke-width="0.4"/>
<line x1="543.64" y1="509.82" x2="582.98" y2="437.41" stroke="#c2cac5" stroke-width="0.4"/>
<line x1="550.78" y1="515.28" x2="610.39" y2="458.39" stroke="#c2cac5" stroke-width="0.4"/>
<line x1="555.9" y1="522.66" x2="630.06" y2="486.74" stroke="#c2cac5" stroke-width="0.4"/>
<line x1="558.52" y1="531.25" x2="640.11" y2="519.76" stroke="#c2cac5" stroke-width="0.4"/>
<line x1="558.38" y1="540.24" x2="639.57" y2="554.27" stroke="#c2cac5" stroke-width="0.4"/>
<line x1="555.49" y1="548.75" x2="628.5" y2="586.95" stroke="#c2cac5" stroke-width="0.4"/>
<line x1="550.15" y1="555.96" x2="607.96" y2="614.68" stroke="#c2cac5" stroke-width="0.4"/>
<line x1="542.85" y1="561.2" x2="579.91" y2="634.79" stroke="#c2cac5" stroke-width="0.4"/>
<line x1="534.29" y1="563.95" x2="547.06" y2="645.36" stroke="#c2cac5" stroke-width="0.4"/>
<line x1="525.31" y1="563.95" x2="512.54" y2="645.36" stroke="#c2cac5" stroke-width="0.4"/>
<line x1="516.75" y1="561.2" x2="479.69" y2="634.79" stroke="#c2cac5" stroke-width="0.4"/>
<line x1="509.45" y1="555.96" x2="451.64" y2="614.68" stroke="#c2cac5" stroke-width="0.4"/>
<line x1="504.11" y1="548.75" x2="431.1" y2="586.95" stroke="#c2cac5" stroke-width="0.4"/>
<line x1="501.22" y1="540.24" x2="420.03" y2="554.27" stroke="#c2cac5" stroke-width="0.4"/>
<line x1="501.08" y1="531.25" x2="419.49" y2="519.76" stroke="#c2cac5" stroke-width="0.4"/>
<line x1="503.7" y1="522.66" x2="429.54" y2="486.74" stroke="#c2cac5" stroke-width="0.4"/>
<line x1="508.82" y1="515.28" x2="449.21" y2="458.39" stroke="#c2cac5" stroke-width="0.4"/>
<line x1="515.96" y1="509.82" x2="476.62" y2="437.41" stroke="#c2cac5" stroke-width="0.4"/>
<line x1="524.42" y1="506.8" x2="509.13" y2="425.83" stroke="#c2cac5" stroke-width="0.4"/>
<path d="M529.8 535.3L533.56 467.93L548.49 436.34L550.87 471.2Z" fill="#f7fcf0" stroke="#fff" stroke-width="0.26" stroke-linejoin="round"/>
<path d="M529.8 535.3L547.34 489.64L564.65 471.15L558.56 495.73Z" fill="#e0f3db" stroke="#fff" stroke-width="0.26" stroke-linejoin="round"/>
<path d="M529.8 535.3L560.48 497.2L582.62 484.89L569.29 506.43Z" fill="#ccebc5" stroke="#fff" stroke-width="0.26" stroke-linejoin="round"/>
<path d="M529.8 535.3L566.79 510.96L589.28 506.49L571.83 521.37Z" fill="#a8ddb5" stroke="#fff" stroke-width="0.26" stroke-linejoin="round"/>
<path d="M529.8 535.3L568.89 524.45L589.75 526.85L570.36 534.93Z" fill="#7bccc4" stroke="#fff" stroke-width="0.26" stroke-linejoin="round"/>
<path d="M529.8 535.3L570.33 536.93L589.46 545.61L568.53 547.36Z" fill="#4eb3d3" stroke="#fff" stroke-width="0.26" stroke-linejoin="round"/>
<path d="M529.8 535.3L565.27 548.3L579.76 561.45L560.7 557.04Z" fill="#2b8cbe" stroke="#fff" stroke-width="0.26" stroke-linejoin="round"/>
<path d="M529.8 535.3L557.4 556.82L566.45 572.52L550.89 563.23Z" fill="#0868ac" stroke="#fff" stroke-width="0.26" stroke-linejoin="round"/>
<path d="M529.8 535.3L547.4 561.17L550.8 577L540.11 564.84Z" fill="#084081" stroke="#fff" stroke-width="0.26" stroke-linejoin="round"/>
<path d="M529.8 535.3L538.64 565.31L537.03 581.43L530.57 566.58Z" fill="#f7fcf0" stroke="#fff" stroke-width="0.26" stroke-linejoin="round"/>
<path d="M529.8 535.3L529.05 565.65L522.78 580.06L521.22 564.42Z" fill="#e0f3db" stroke="#fff" stroke-width="0.26" stroke-linejoin="round"/>
<path d="M529.8 535.3L519.8 563.96L509.42 575.77L512.72 560.4Z" fill="#ccebc5" stroke="#fff" stroke-width="0.26" stroke-linejoin="round"/>
<path d="M529.8 535.3L511.51 559.53L498.01 567.59L505.86 553.97Z" fill="#a8ddb5" stroke="#fff" stroke-width="0.26" stroke-linejoin="round"/>
<path d="M529.8 535.3L505.73 552.23L490.88 555.67L502.17 545.43Z" fill="#7bccc4" stroke="#fff" stroke-width="0.26" stroke-linejoin="round"/>
<path d="M529.8 535.3L501.7 544.05L486.52 542.78L500.39 536.48Z" fill="#4eb3d3" stroke="#fff" stroke-width="0.26" stroke-linejoin="round"/>
<path d="M529.8 535.3L500.37 535.03L486.3 529.17L501.44 527.43Z" fill="#2b8cbe" stroke="#fff" stroke-width="0.26" stroke-linejoin="round"/>
<path d="M529.8 535.3L502.75 526.33L491.51 516.76L505.99 519.63Z" fill="#0868ac" stroke="#fff" stroke-width="0.26" stroke-linejoin="round"/>
<path d="M529.8 535.3L506.79 518.48L499.03 505.93L511.93 513.1Z" fill="#084081" stroke="#fff" stroke-width="0.26" stroke-linejoin="round"/>
<path d="M529.8 535.3L513.04 512.25L509.49 497.92L519.58 508.69Z" fill="#f7fcf0" stroke="#fff" stroke-width="0.26" stroke-linejoin="round"/>
<path d="M529.8 535.3L520.9 508.22L521.91 493.5L528.21 506.84Z" fill="#e0f3db" stroke="#fff" stroke-width="0.26" stroke-linejoin="round"/>
<text transform="translate(549.17 432.7) rotate(10.69)" font-size="5.2" stroke="#111" stroke-width="0.08" text-anchor="start" dominant-baseline="central" font-family='"Liberation Sans", Arial, Helvetica, sans-serif' fill="#111">46</text>
<text transform="translate(551.88 418.37) rotate(10.69)" font-size="6" stroke="#111" stroke-width="0.1" text-anchor="middle" dominant-baseline="central" font-family='"Liberation Sans", Arial, Helvetica, sans-serif' fill="#111">VEGFA</text>
<text transform="translate(566.42 467.9) rotate(28.51)" font-size="5.2" stroke="#111" stroke-width="0.08" text-anchor="start" dominant-baseline="central" font-family='"Liberation Sans", Arial, Helvetica, sans-serif' fill="#111">26</text>
<text transform="translate(586.61 430.74) rotate(28.51)" font-size="6" stroke="#111" stroke-width="0.1" text-anchor="middle" dominant-baseline="central" font-family='"Liberation Sans", Arial, Helvetica, sans-serif' fill="#111">LRP2</text>
<text transform="translate(585.29 482.34) rotate(46.34)" font-size="5.2" stroke="#111" stroke-width="0.08" text-anchor="start" dominant-baseline="central" font-family='"Liberation Sans", Arial, Helvetica, sans-serif' fill="#111">26</text>
<text transform="translate(615.89 453.14) rotate(46.34)" font-size="6" stroke="#111" stroke-width="0.1" text-anchor="middle" dominant-baseline="central" font-family='"Liberation Sans", Arial, Helvetica, sans-serif' fill="#111">PTPRC</text>
<text transform="translate(592.61 504.88) rotate(64.16)" font-size="5.2" stroke="#111" stroke-width="0.08" text-anchor="start" dominant-baseline="central" font-family='"Liberation Sans", Arial, Helvetica, sans-serif' fill="#111">21</text>
<text transform="translate(636.9 483.43) rotate(64.16)" font-size="6" stroke="#111" stroke-width="0.1" text-anchor="middle" dominant-baseline="central" font-family='"Liberation Sans", Arial, Helvetica, sans-serif' fill="#111">FST</text>
<text transform="translate(593.42 526.34) rotate(81.98)" font-size="5.2" stroke="#111" stroke-width="0.08" text-anchor="start" dominant-baseline="central" font-family='"Liberation Sans", Arial, Helvetica, sans-serif' fill="#111">17</text>
<text transform="translate(647.64 518.7) rotate(81.98)" font-size="6" stroke="#111" stroke-width="0.1" text-anchor="middle" dominant-baseline="central" font-family='"Liberation Sans", Arial, Helvetica, sans-serif' fill="#111">ERG</text>
<text transform="translate(593.11 546.24) rotate(-80.2)" font-size="5.2" stroke="#111" stroke-width="0.08" text-anchor="start" dominant-baseline="central" font-family='"Liberation Sans", Arial, Helvetica, sans-serif' fill="#111">17</text>
<text transform="translate(647.06 555.56) rotate(99.8)" font-size="6" stroke="#111" stroke-width="0.1" text-anchor="middle" dominant-baseline="central" font-family='"Liberation Sans", Arial, Helvetica, sans-serif' fill="#111">RPE65</text>
<text transform="translate(583.04 563.16) rotate(-62.38)" font-size="5.2" stroke="#111" stroke-width="0.08" text-anchor="start" dominant-baseline="central" font-family='"Liberation Sans", Arial, Helvetica, sans-serif' fill="#111">14</text>
<text transform="translate(635.24 590.48) rotate(117.62)" font-size="6" stroke="#111" stroke-width="0.1" text-anchor="middle" dominant-baseline="central" font-family='"Liberation Sans", Arial, Helvetica, sans-serif' fill="#111">RPGR</text>
<text transform="translate(569.04 575.16) rotate(-44.55)" font-size="5.2" stroke="#111" stroke-width="0.08" text-anchor="start" dominant-baseline="central" font-family='"Liberation Sans", Arial, Helvetica, sans-serif' fill="#111">11</text>
<text transform="translate(613.29 620.1) rotate(135.45)" font-size="6" stroke="#111" stroke-width="0.1" text-anchor="middle" dominant-baseline="central" font-family='"Liberation Sans", Arial, Helvetica, sans-serif' fill="#111">ND4</text>
<text transform="translate(552.47 580.31) rotate(-26.73)" font-size="5.2" stroke="#111" stroke-width="0.08" text-anchor="start" dominant-baseline="central" font-family='"Liberation Sans", Arial, Helvetica, sans-serif' fill="#111">7</text>
<text transform="translate(583.33 641.58) rotate(153.27)" font-size="6" stroke="#111" stroke-width="0.1" text-anchor="middle" dominant-baseline="central" font-family='"Liberation Sans", Arial, Helvetica, sans-serif' fill="#111">AGFG1</text>
<text transform="translate(537.61 585.09) rotate(-8.91)" font-size="5.2" stroke="#111" stroke-width="0.08" text-anchor="start" dominant-baseline="central" font-family='"Liberation Sans", Arial, Helvetica, sans-serif' fill="#111">7</text>
<text transform="translate(548.23 652.86) rotate(171.09)" font-size="6" stroke="#111" stroke-width="0.1" text-anchor="middle" dominant-baseline="central" font-family='"Liberation Sans", Arial, Helvetica, sans-serif' fill="#111">ND1</text>
<text transform="translate(522.21 583.72) rotate(8.91)" font-size="5.2" stroke="#111" stroke-width="0.08" text-anchor="start" dominant-baseline="central" font-family='"Liberation Sans", Arial, Helvetica, sans-serif' fill="#111">6</text>
<text transform="translate(511.37 652.86) rotate(8.91)" font-size="6" stroke="#111" stroke-width="0.1" text-anchor="middle" dominant-baseline="central" font-family='"Liberation Sans", Arial, Helvetica, sans-serif' fill="#111">CSTB</text>
<text transform="translate(507.75 579.07) rotate(26.73)" font-size="5.2" stroke="#111" stroke-width="0.08" text-anchor="start" dominant-baseline="central" font-family='"Liberation Sans", Arial, Helvetica, sans-serif' fill="#111">6</text>
<text transform="translate(476.27 641.58) rotate(26.73)" font-size="6" stroke="#111" stroke-width="0.1" text-anchor="middle" dominant-baseline="central" font-family='"Liberation Sans", Arial, Helvetica, sans-serif' fill="#111">MPZ</text>
<text transform="translate(495.42 570.22) rotate(44.55)" font-size="5.2" stroke="#111" stroke-width="0.08" text-anchor="start" dominant-baseline="central" font-family='"Liberation Sans", Arial, Helvetica, sans-serif' fill="#111">6</text>
<text transform="translate(446.31 620.1) rotate(44.55)" font-size="6" stroke="#111" stroke-width="0.1" text-anchor="middle" dominant-baseline="central" font-family='"Liberation Sans", Arial, Helvetica, sans-serif' fill="#111">TWIST1</text>
<text transform="translate(487.6 557.38) rotate(62.38)" font-size="5.2" stroke="#111" stroke-width="0.08" text-anchor="start" dominant-baseline="central" font-family='"Liberation Sans", Arial, Helvetica, sans-serif' fill="#111">5</text>
<text transform="translate(424.36 590.48) rotate(62.38)" font-size="6" stroke="#111" stroke-width="0.1" text-anchor="middle" dominant-baseline="central" font-family='"Liberation Sans", Arial, Helvetica, sans-serif' fill="#111">CASP8AP2</text>
<text transform="translate(482.87 543.41) rotate(80.2)" font-size="5.2" stroke="#111" stroke-width="0.08" text-anchor="start" dominant-baseline="central" font-family='"Liberation Sans", Arial, Helvetica, sans-serif' fill="#111">5</text>
<text transform="translate(412.54 555.56) rotate(80.2)" font-size="6" stroke="#111" stroke-width="0.1" text-anchor="middle" dominant-baseline="central" font-family='"Liberation Sans", Arial, Helvetica, sans-serif' fill="#111">CD8A</text>
<text transform="translate(482.64 528.66) rotate(-81.98)" font-size="5.2" stroke="#111" stroke-width="0.08" text-anchor="start" dominant-baseline="central" font-family='"Liberation Sans", Arial, Helvetica, sans-serif' fill="#111">5</text>
<text transform="translate(411.96 518.7) rotate(98.02)" font-size="6" stroke="#111" stroke-width="0.1" text-anchor="middle" dominant-baseline="central" font-family='"Liberation Sans", Arial, Helvetica, sans-serif' fill="#111">DCAF1</text>
<text transform="translate(488.18 515.14) rotate(-64.16)" font-size="5.2" stroke="#111" stroke-width="0.08" text-anchor="start" dominant-baseline="central" font-family='"Liberation Sans", Arial, Helvetica, sans-serif' fill="#111">4</text>
<text transform="translate(422.7 483.43) rotate(115.84)" font-size="6" stroke="#111" stroke-width="0.1" text-anchor="middle" dominant-baseline="central" font-family='"Liberation Sans", Arial, Helvetica, sans-serif' fill="#111">ABCA4</text>
<text transform="translate(496.35 503.37) rotate(-46.34)" font-size="5.2" stroke="#111" stroke-width="0.08" text-anchor="start" dominant-baseline="central" font-family='"Liberation Sans", Arial, Helvetica, sans-serif' fill="#111">4</text>
<text transform="translate(443.71 453.14) rotate(133.66)" font-size="6" stroke="#111" stroke-width="0.1" text-anchor="middle" dominant-baseline="central" font-family='"Liberation Sans", Arial, Helvetica, sans-serif' fill="#111">CD4</text>
<text transform="translate(507.73 494.67) rotate(-28.51)" font-size="5.2" stroke="#111" stroke-width="0.08" text-anchor="start" dominant-baseline="central" font-family='"Liberation Sans", Arial, Helvetica, sans-serif' fill="#111">4</text>
<text transform="translate(472.99 430.74) rotate(151.49)" font-size="6" stroke="#111" stroke-width="0.1" text-anchor="middle" dominant-baseline="central" font-family='"Liberation Sans", Arial, Helvetica, sans-serif' fill="#111">DAND5</text>
<text transform="translate(521.22 489.86) rotate(-10.69)" font-size="5.2" stroke="#111" stroke-width="0.08" text-anchor="start" dominant-baseline="central" font-family='"Liberation Sans", Arial, Helvetica, sans-serif' fill="#111">4</text>
<text transform="translate(507.72 418.37) rotate(169.31)" font-size="6" stroke="#111" stroke-width="0.1" text-anchor="middle" dominant-baseline="central" font-family='"Liberation Sans", Arial, Helvetica, sans-serif' fill="#111">DDX43</text>
<text x="530.2" y="493.47" font-size="5.8" text-anchor="middle" font-family='"Liberation Sans", Arial, Helvetica, sans-serif' fill="#111" stroke="#111" stroke-width="0.09">5</text>
<text x="530.2" y="486.55" font-size="5.8" text-anchor="middle" font-family='"Liberation Sans", Arial, Helvetica, sans-serif' fill="#111" stroke="#111" stroke-width="0.09">10</text>
<text x="530.2" y="479.62" font-size="5.8" text-anchor="middle" font-family='"Liberation Sans", Arial, Helvetica, sans-serif' fill="#111" stroke="#111" stroke-width="0.09">15</text>
<text x="530.2" y="472.7" font-size="5.8" text-anchor="middle" font-family='"Liberation Sans", Arial, Helvetica, sans-serif' fill="#111" stroke="#111" stroke-width="0.09">20</text>
<text x="530.2" y="465.77" font-size="5.8" text-anchor="middle" font-family='"Liberation Sans", Arial, Helvetica, sans-serif' fill="#111" stroke="#111" stroke-width="0.09">25</text>
<text x="530.2" y="458.85" font-size="5.8" text-anchor="middle" font-family='"Liberation Sans", Arial, Helvetica, sans-serif' fill="#111" stroke="#111" stroke-width="0.09">30</text>
<text x="530.2" y="451.92" font-size="5.8" text-anchor="middle" font-family='"Liberation Sans", Arial, Helvetica, sans-serif' fill="#111" stroke="#111" stroke-width="0.09">35</text>
<text x="530.2" y="445" font-size="5.8" text-anchor="middle" font-family='"Liberation Sans", Arial, Helvetica, sans-serif' fill="#111" stroke="#111" stroke-width="0.09">40</text>
<text x="530.2" y="438.07" font-size="5.8" text-anchor="middle" font-family='"Liberation Sans", Arial, Helvetica, sans-serif' fill="#111" stroke="#111" stroke-width="0.09">45</text>
</svg>
</body></html>
